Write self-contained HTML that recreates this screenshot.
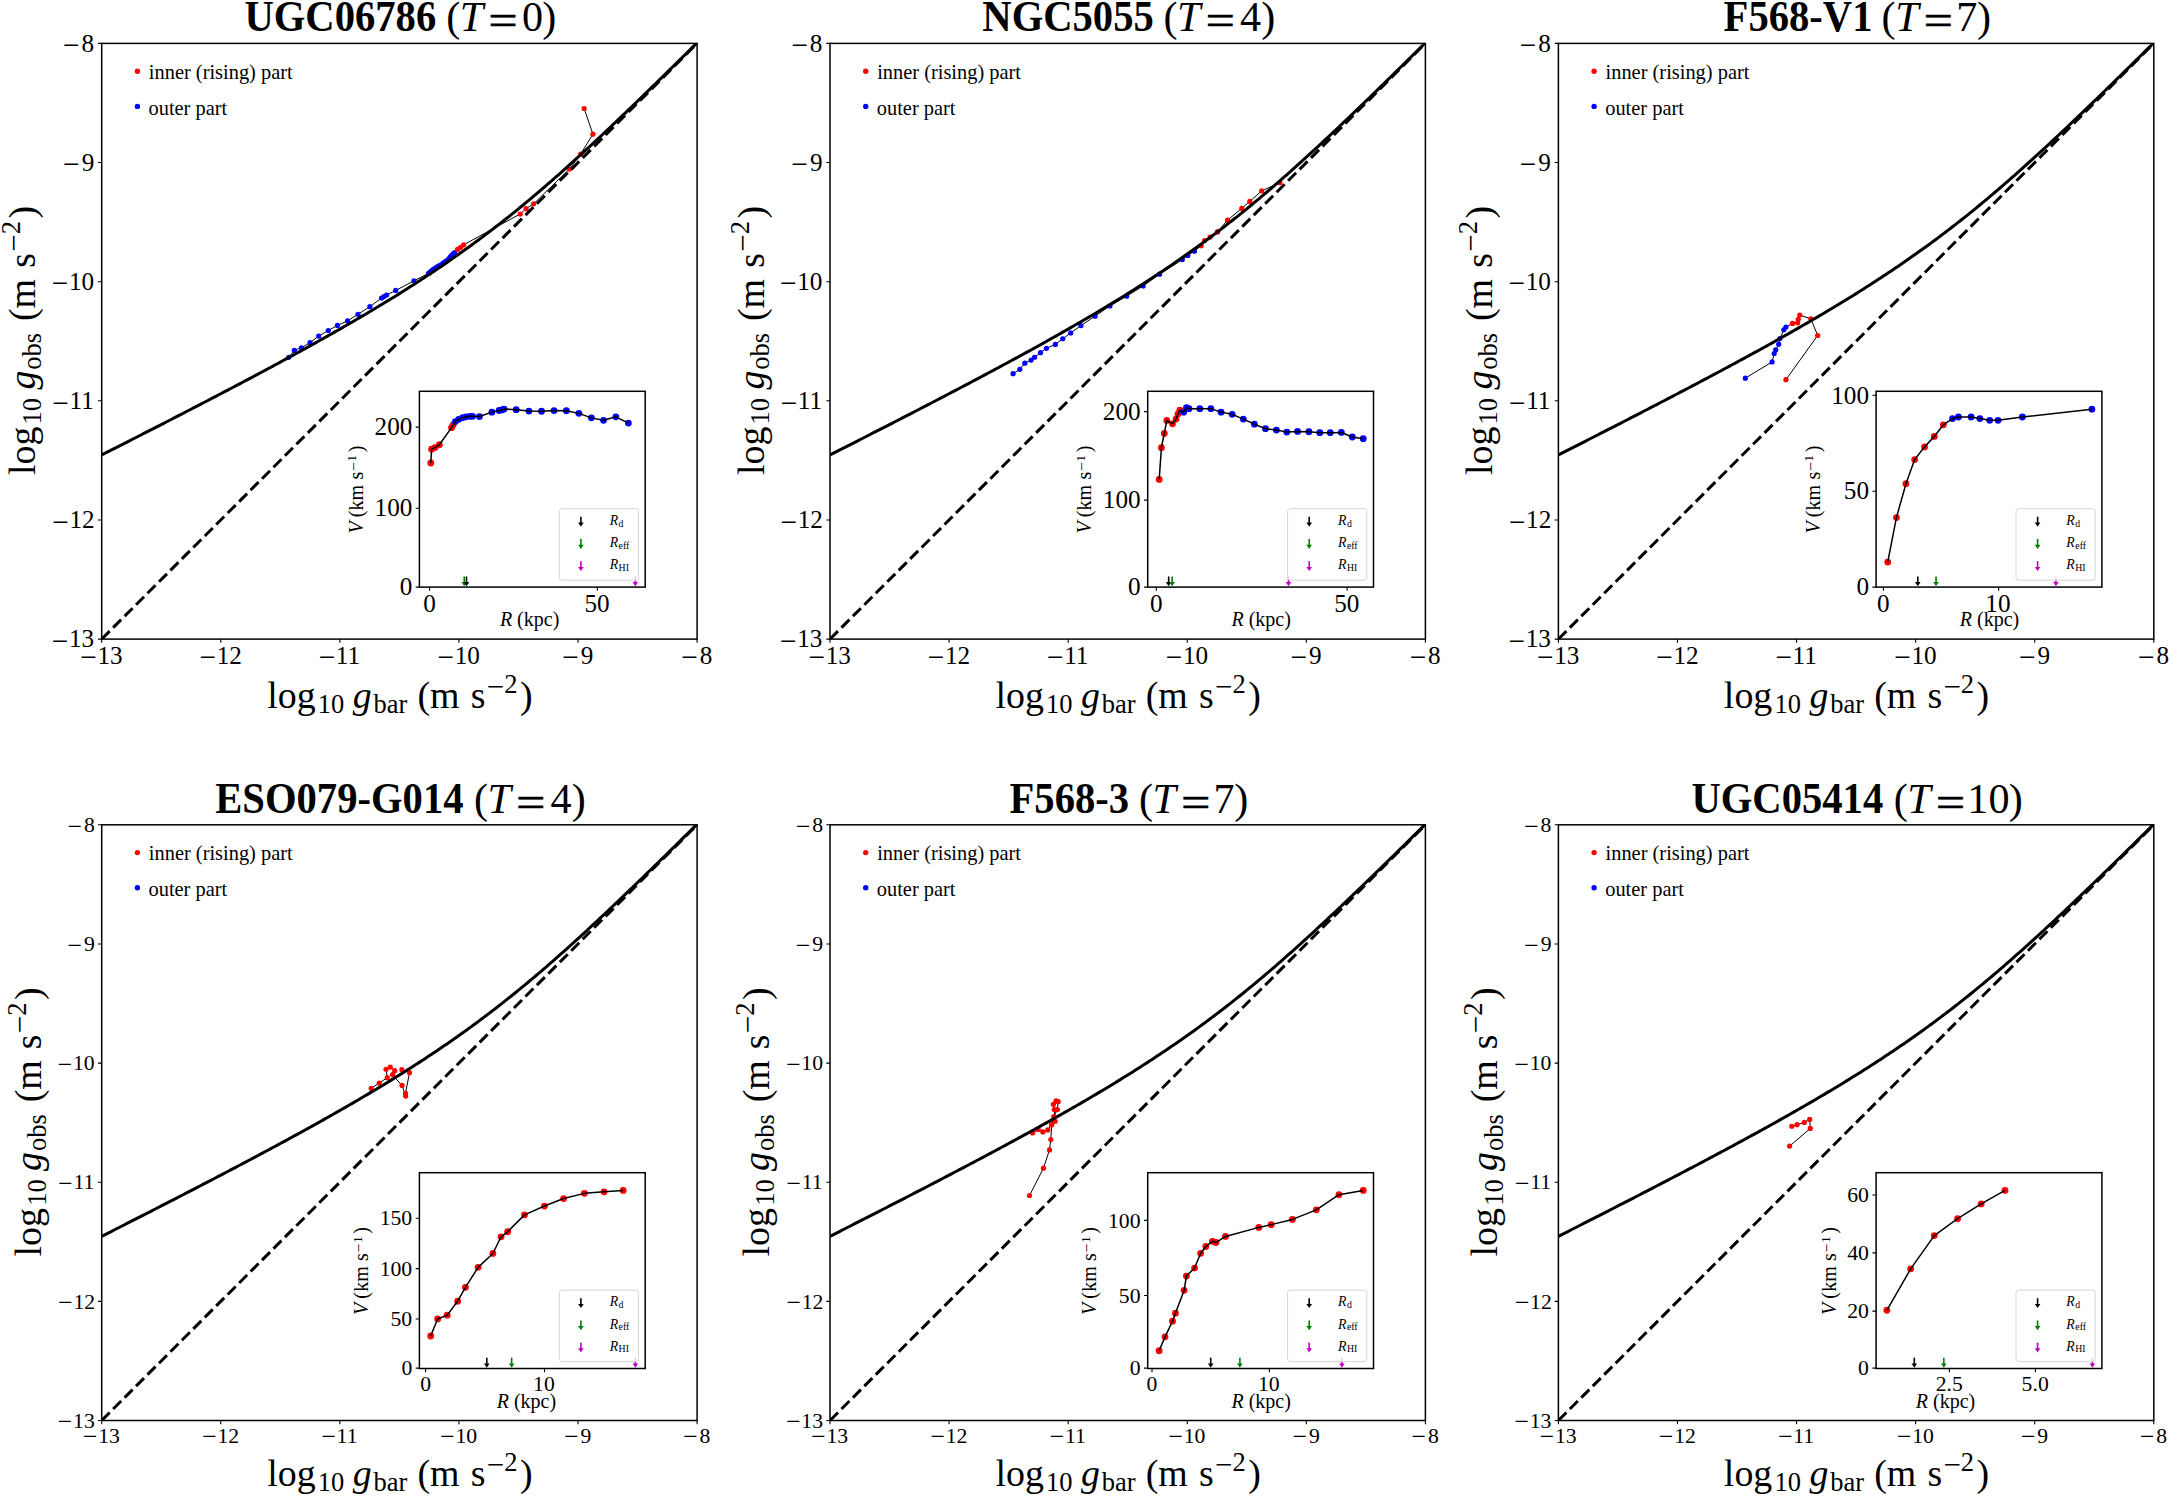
<!DOCTYPE html>
<html><head><meta charset="utf-8"><title>RAR panels</title><style>html,body{margin:0;padding:0;background:#fff;width:2170px;height:1497px;overflow:hidden}svg{display:block}</style></head><body>
<svg width="2170" height="1497" viewBox="0 0 2170 1497" font-family="'Liberation Serif', 'Times New Roman', serif">
<rect width="2170" height="1497" fill="#fff"/>
<g id="p0">
<clipPath id="c0"><rect x="101.7" y="43.4" width="595.4" height="595.7"/></clipPath>
<g clip-path="url(#c0)">
<polyline points="584.15,108.49 592.91,134.14 580.62,154.13 569.4,169.09 533.59,203.83 526.11,208.64 520.23,213.98 463.64,244.84 460.6,247.37 457.56,249.4 454.6,252.6 453.15,253.95 451.7,255.3 450.37,256.9 449.03,258.5 447.7,260.1 446.38,261.03 445.05,261.95 443.72,262.88 442.4,263.8 440.4,265 438.4,266.2 437.05,267.07 435.7,267.95 434.35,268.82 433,269.7 431.5,270.93 430,272.17 428.5,273.4 413.96,280.83 395.71,290.46 386.59,295.02 384,296.6 381.52,298.06 369.86,306.68 358,314.29 347.56,320.88 337.42,325.44 328.29,330.51 318.66,336.08 310.05,342.67 301.43,347.74 294.33,350.28 288.76,357.37" stroke="#000" stroke-width="1" fill="none"/>
<circle cx="288.76" cy="357.37" r="2.6" fill="#0000ff"/>
<circle cx="294.33" cy="350.28" r="2.6" fill="#0000ff"/>
<circle cx="301.43" cy="347.74" r="2.6" fill="#0000ff"/>
<circle cx="310.05" cy="342.67" r="2.6" fill="#0000ff"/>
<circle cx="318.66" cy="336.08" r="2.6" fill="#0000ff"/>
<circle cx="328.29" cy="330.51" r="2.6" fill="#0000ff"/>
<circle cx="337.42" cy="325.44" r="2.6" fill="#0000ff"/>
<circle cx="347.56" cy="320.88" r="2.6" fill="#0000ff"/>
<circle cx="358" cy="314.29" r="2.6" fill="#0000ff"/>
<circle cx="369.86" cy="306.68" r="2.6" fill="#0000ff"/>
<circle cx="381.52" cy="298.06" r="2.6" fill="#0000ff"/>
<circle cx="384" cy="296.6" r="2.6" fill="#0000ff"/>
<circle cx="386.59" cy="295.02" r="2.6" fill="#0000ff"/>
<circle cx="395.71" cy="290.46" r="2.6" fill="#0000ff"/>
<circle cx="413.96" cy="280.83" r="2.6" fill="#0000ff"/>
<circle cx="428.5" cy="273.4" r="2.6" fill="#0000ff"/>
<circle cx="430" cy="272.17" r="2.6" fill="#0000ff"/>
<circle cx="431.5" cy="270.93" r="2.6" fill="#0000ff"/>
<circle cx="433" cy="269.7" r="2.6" fill="#0000ff"/>
<circle cx="434.35" cy="268.82" r="2.6" fill="#0000ff"/>
<circle cx="435.7" cy="267.95" r="2.6" fill="#0000ff"/>
<circle cx="437.05" cy="267.07" r="2.6" fill="#0000ff"/>
<circle cx="438.4" cy="266.2" r="2.6" fill="#0000ff"/>
<circle cx="440.4" cy="265" r="2.6" fill="#0000ff"/>
<circle cx="442.4" cy="263.8" r="2.6" fill="#0000ff"/>
<circle cx="443.72" cy="262.88" r="2.6" fill="#0000ff"/>
<circle cx="445.05" cy="261.95" r="2.6" fill="#0000ff"/>
<circle cx="446.38" cy="261.03" r="2.6" fill="#0000ff"/>
<circle cx="447.7" cy="260.1" r="2.6" fill="#0000ff"/>
<circle cx="449.03" cy="258.5" r="2.6" fill="#0000ff"/>
<circle cx="450.37" cy="256.9" r="2.6" fill="#0000ff"/>
<circle cx="451.7" cy="255.3" r="2.6" fill="#0000ff"/>
<circle cx="453.15" cy="253.95" r="2.6" fill="#0000ff"/>
<circle cx="454.6" cy="252.6" r="2.6" fill="#0000ff"/>
<circle cx="457.56" cy="249.4" r="2.6" fill="#ff0000"/>
<circle cx="460.6" cy="247.37" r="2.6" fill="#ff0000"/>
<circle cx="463.64" cy="244.84" r="2.6" fill="#ff0000"/>
<circle cx="520.23" cy="213.98" r="2.6" fill="#ff0000"/>
<circle cx="526.11" cy="208.64" r="2.6" fill="#ff0000"/>
<circle cx="533.59" cy="203.83" r="2.6" fill="#ff0000"/>
<circle cx="569.4" cy="169.09" r="2.6" fill="#ff0000"/>
<circle cx="580.62" cy="154.13" r="2.6" fill="#ff0000"/>
<circle cx="592.91" cy="134.14" r="2.6" fill="#ff0000"/>
<circle cx="584.15" cy="108.49" r="2.6" fill="#ff0000"/>
<path d="M101.7,639.1 L697.1,43.4" stroke="#000" stroke-width="3" stroke-dasharray="11.3 4.9" fill="none"/>
<path d="M101.7,454.93 L104.18,453.67 L106.66,452.41 L109.14,451.15 L111.62,449.89 L114.1,448.63 L116.59,447.36 L119.07,446.1 L121.55,444.84 L124.03,443.58 L126.51,442.31 L128.99,441.05 L131.47,439.78 L133.95,438.52 L136.43,437.25 L138.91,435.99 L141.39,434.72 L143.87,433.45 L146.36,432.18 L148.84,430.92 L151.32,429.65 L153.8,428.38 L156.28,427.1 L158.76,425.83 L161.24,424.56 L163.72,423.29 L166.2,422.01 L168.68,420.74 L171.16,419.46 L173.64,418.19 L176.12,416.91 L178.61,415.63 L181.09,414.35 L183.57,413.07 L186.05,411.79 L188.53,410.51 L191.01,409.23 L193.49,407.94 L195.97,406.66 L198.45,405.37 L200.93,404.08 L203.41,402.79 L205.89,401.5 L208.38,400.21 L210.86,398.92 L213.34,397.63 L215.82,396.33 L218.3,395.04 L220.78,393.74 L223.26,392.44 L225.74,391.14 L228.22,389.84 L230.7,388.54 L233.18,387.24 L235.67,385.93 L238.15,384.62 L240.63,383.32 L243.11,382 L245.59,380.69 L248.07,379.38 L250.55,378.06 L253.03,376.75 L255.51,375.43 L257.99,374.11 L260.47,372.78 L262.95,371.46 L265.44,370.13 L267.92,368.8 L270.4,367.47 L272.88,366.14 L275.36,364.8 L277.84,363.46 L280.32,362.12 L282.8,360.78 L285.28,359.44 L287.76,358.09 L290.24,356.74 L292.72,355.38 L295.2,354.03 L297.69,352.67 L300.17,351.31 L302.65,349.95 L305.13,348.58 L307.61,347.21 L310.09,345.84 L312.57,344.46 L315.05,343.08 L317.53,341.7 L320.01,340.31 L322.49,338.92 L324.98,337.53 L327.46,336.13 L329.94,334.73 L332.42,333.33 L334.9,331.92 L337.38,330.51 L339.86,329.09 L342.34,327.67 L344.82,326.25 L347.3,324.82 L349.78,323.38 L352.26,321.94 L354.75,320.5 L357.23,319.05 L359.71,317.6 L362.19,316.14 L364.67,314.68 L367.15,313.21 L369.63,311.74 L372.11,310.26 L374.59,308.78 L377.07,307.29 L379.55,305.79 L382.03,304.29 L384.51,302.79 L387,301.27 L389.48,299.75 L391.96,298.23 L394.44,296.69 L396.92,295.16 L399.4,293.61 L401.88,292.06 L404.36,290.5 L406.84,288.93 L409.32,287.35 L411.8,285.77 L414.28,284.18 L416.77,282.58 L419.25,280.98 L421.73,279.36 L424.21,277.74 L426.69,276.11 L429.17,274.47 L431.65,272.83 L434.13,271.17 L436.61,269.51 L439.09,267.83 L441.57,266.15 L444.06,264.46 L446.54,262.75 L449.02,261.04 L451.5,259.32 L453.98,257.59 L456.46,255.85 L458.94,254.1 L461.42,252.34 L463.9,250.56 L466.38,248.78 L468.86,246.99 L471.34,245.19 L473.82,243.37 L476.31,241.55 L478.79,239.71 L481.27,237.86 L483.75,236 L486.23,234.14 L488.71,232.25 L491.19,230.36 L493.67,228.46 L496.15,226.54 L498.63,224.62 L501.11,222.68 L503.59,220.73 L506.08,218.77 L508.56,216.8 L511.04,214.82 L513.52,212.82 L516,210.82 L518.48,208.8 L520.96,206.77 L523.44,204.73 L525.92,202.68 L528.4,200.62 L530.88,198.54 L533.37,196.46 L535.85,194.36 L538.33,192.26 L540.81,190.14 L543.29,188.01 L545.77,185.88 L548.25,183.73 L550.73,181.57 L553.21,179.4 L555.69,177.23 L558.17,175.04 L560.65,172.84 L563.13,170.64 L565.62,168.42 L568.1,166.2 L570.58,163.97 L573.06,161.73 L575.54,159.48 L578.02,157.22 L580.5,154.96 L582.98,152.68 L585.46,150.4 L587.94,148.11 L590.42,145.82 L592.9,143.52 L595.39,141.21 L597.87,138.89 L600.35,136.57 L602.83,134.24 L605.31,131.91 L607.79,129.57 L610.27,127.23 L612.75,124.88 L615.23,122.52 L617.71,120.16 L620.19,117.79 L622.68,115.42 L625.16,113.05 L627.64,110.67 L630.12,108.28 L632.6,105.9 L635.08,103.51 L637.56,101.11 L640.04,98.71 L642.52,96.31 L645,93.9 L647.48,91.49 L649.96,89.08 L652.45,86.66 L654.93,84.25 L657.41,81.82 L659.89,79.4 L662.37,76.97 L664.85,74.55 L667.33,72.11 L669.81,69.68 L672.29,67.25 L674.77,64.81 L677.25,62.37 L679.73,59.93 L682.22,57.48 L684.7,55.04 L687.18,52.59 L689.66,50.14 L692.14,47.69 L694.62,45.24 L697.1,42.79" stroke="#000" stroke-width="3" fill="none" stroke-linejoin="round"/>
</g>
<rect x="101.7" y="43.4" width="595.4" height="595.7" fill="none" stroke="#000" stroke-width="1.5"/>
<path d="M101.7,639.1 v3.7 M101.7,639.1 h-3.7 M220.78,639.1 v3.7 M101.7,519.96 h-3.7 M339.86,639.1 v3.7 M101.7,400.82 h-3.7 M458.94,639.1 v3.7 M101.7,281.68 h-3.7 M578.02,639.1 v3.7 M101.7,162.54 h-3.7 M697.1,639.1 v3.7 M101.7,43.4 h-3.7" stroke="#000" stroke-width="1.1"/>
<text font-size="25.2"><tspan x="80.27" y="667.29" font-size="29.5">−</tspan><tspan x="97.45" y="664">13</tspan></text>
<text font-size="25.2"><tspan x="51.8" y="650.79" font-size="29.5">−</tspan><tspan x="68.98" y="647.49">13</tspan></text>
<text font-size="25.2"><tspan x="199.55" y="667.29" font-size="29.5">−</tspan><tspan x="216.73" y="664">12</tspan></text>
<text font-size="25.2"><tspan x="52.21" y="531.65" font-size="29.5">−</tspan><tspan x="69.39" y="528.35">12</tspan></text>
<text font-size="25.2"><tspan x="318.69" y="667.29" font-size="29.5">−</tspan><tspan x="335.87" y="664">11</tspan></text>
<text font-size="25.2"><tspan x="52.33" y="412.51" font-size="29.5">−</tspan><tspan x="69.51" y="409.21">11</tspan></text>
<text font-size="25.2"><tspan x="437.49" y="667.29" font-size="29.5">−</tspan><tspan x="454.68" y="664">10</tspan></text>
<text font-size="25.2"><tspan x="51.78" y="293.37" font-size="29.5">−</tspan><tspan x="68.96" y="290.07">10</tspan></text>
<text font-size="25.2"><tspan x="562.21" y="667.29" font-size="29.5">−</tspan><tspan x="580.79" y="664">9</tspan></text>
<text font-size="25.2"><tspan x="63.05" y="174.23" font-size="29.5">−</tspan><tspan x="81.63" y="170.93">9</tspan></text>
<text font-size="25.2"><tspan x="681.33" y="667.29" font-size="29.5">−</tspan><tspan x="699.76" y="664">8</tspan></text>
<text font-size="25.2"><tspan x="63.12" y="55.09" font-size="29.5">−</tspan><tspan x="81.56" y="51.79">8</tspan></text>
<text transform="translate(244.44,31.2) scale(0.932,1)" font-size="43.6" font-weight="bold">UGC06786</text>
<text><tspan x="446.28" y="31.2" font-size="42.2">(</tspan><tspan x="459.81" y="31.2" font-size="42.2" font-style="italic">T</tspan><tspan x="522.02" y="31.2" font-size="42.2">0</tspan><tspan x="542.35" y="31.2" font-size="42.2">)</tspan></text>
<text transform="translate(488.51,34.1) scale(1.22,1)" font-size="42.2" stroke="#000" stroke-width="0.7">=</text>
<text><tspan x="267.17" y="707.7" font-size="37.9">log</tspan><tspan x="317.8" y="713.1" font-size="26.5">10</tspan><tspan x="352.71" y="707.7" font-size="37.9" font-style="italic">g</tspan><tspan x="373.53" y="713.1" font-size="26.5">bar</tspan><tspan x="417.57" y="707.7" font-size="37.9">(</tspan><tspan x="430.04" y="707.7" font-size="37.9">m</tspan><tspan x="470.68" y="707.7" font-size="37.9">s</tspan><tspan x="486.69" y="696.6" font-size="31">−</tspan><tspan x="504.17" y="692.7" font-size="26.5">2</tspan><tspan x="519.91" y="707.7" font-size="37.9">)</tspan></text>
<text transform="translate(35.3,340.95) rotate(-90)"><tspan x="-134.08" y="0" font-size="37.9">log</tspan><tspan x="-83.45" y="5.4" font-size="26.5">10</tspan><tspan x="-48.54" y="0" font-size="37.9" font-style="italic">g</tspan><tspan x="-28.73" y="5.4" font-size="26.5">obs</tspan><tspan x="20.02" y="0" font-size="37.9">(</tspan><tspan x="32.49" y="0" font-size="37.9">m</tspan><tspan x="73.13" y="0" font-size="37.9">s</tspan><tspan x="89.14" y="-11.1" font-size="31">−</tspan><tspan x="106.62" y="-15" font-size="26.5">2</tspan><tspan x="122.36" y="0" font-size="37.9">)</tspan></text>
<circle cx="137.4" cy="71.2" r="2.7" fill="#ff0000"/>
<circle cx="137.4" cy="106.4" r="2.7" fill="#0000ff"/>
<text x="148.87" y="79" font-size="20.4">inner (rising) part</text>
<text x="148.52" y="114.7" font-size="20.4">outer part</text>
</g>
<g id="in0">
<rect x="419.4" y="391.3" width="225.8" height="195.8" fill="#fff"/>
<clipPath id="ic0"><rect x="419.4" y="391.3" width="225.8" height="195.8"/></clipPath>
<g clip-path="url(#ic0)">
<circle cx="430.78" cy="463.02" r="3.4" fill="#ff0000"/>
<circle cx="431.61" cy="449.19" r="3.4" fill="#ff0000"/>
<circle cx="434.93" cy="447.53" r="3.4" fill="#ff0000"/>
<circle cx="439.35" cy="444.77" r="3.4" fill="#ff0000"/>
<circle cx="451.52" cy="427.63" r="3.4" fill="#ff0000"/>
<circle cx="453.18" cy="424.86" r="3.4" fill="#ff0000"/>
<circle cx="455.39" cy="421.54" r="3.4" fill="#0000ff"/>
<circle cx="458.71" cy="419.33" r="3.4" fill="#0000ff"/>
<circle cx="462.58" cy="417.67" r="3.4" fill="#0000ff"/>
<circle cx="465.9" cy="416.84" r="3.4" fill="#0000ff"/>
<circle cx="469.77" cy="416.29" r="3.4" fill="#0000ff"/>
<circle cx="472.53" cy="416.29" r="3.4" fill="#0000ff"/>
<circle cx="479.45" cy="416.57" r="3.4" fill="#0000ff"/>
<circle cx="491.89" cy="412.14" r="3.4" fill="#0000ff"/>
<circle cx="499.08" cy="410.48" r="3.4" fill="#0000ff"/>
<circle cx="501.84" cy="409.93" r="3.4" fill="#0000ff"/>
<circle cx="504.06" cy="409.1" r="3.4" fill="#0000ff"/>
<circle cx="516.22" cy="409.65" r="3.4" fill="#0000ff"/>
<circle cx="528.94" cy="411.04" r="3.4" fill="#0000ff"/>
<circle cx="541.52" cy="411.27" r="3.4" fill="#0000ff"/>
<circle cx="554.03" cy="410.58" r="3.4" fill="#0000ff"/>
<circle cx="566.36" cy="410.75" r="3.4" fill="#0000ff"/>
<circle cx="578.87" cy="413.36" r="3.4" fill="#0000ff"/>
<circle cx="591.38" cy="417.87" r="3.4" fill="#0000ff"/>
<circle cx="603.54" cy="420.3" r="3.4" fill="#0000ff"/>
<circle cx="615.87" cy="416.83" r="3.4" fill="#0000ff"/>
<circle cx="628.38" cy="423.08" r="3.4" fill="#0000ff"/>
<polyline points="430.78,463.02 431.61,449.19 434.93,447.53 439.35,444.77 451.52,427.63 453.18,424.86 455.39,421.54 458.71,419.33 462.58,417.67 465.9,416.84 469.77,416.29 472.53,416.29 479.45,416.57 491.89,412.14 499.08,410.48 501.84,409.93 504.06,409.1 516.22,409.65 528.94,411.04 541.52,411.27 554.03,410.58 566.36,410.75 578.87,413.36 591.38,417.87 603.54,420.3 615.87,416.83 628.38,423.08" stroke="#000" stroke-width="1.5" fill="none" stroke-linejoin="round"/>
<path d="M464.22,577 V582.6" stroke="#008000" stroke-width="1.6" stroke-linecap="round"/><path d="M461.42,582.1 L467.02,582.1 L464.22,586.3 Z" fill="#008000"/>
<path d="M466.48,577 V582.6" stroke="#000000" stroke-width="1.6" stroke-linecap="round"/><path d="M463.68,582.1 L469.28,582.1 L466.48,586.3 Z" fill="#000000"/>
<path d="M635.34,577 V582.6" stroke="#bf00bf" stroke-width="1.6" stroke-linecap="round"/><path d="M632.54,582.1 L638.14,582.1 L635.34,586.3 Z" fill="#bf00bf"/>
</g>
<rect x="559.3" y="508.7" width="79.2" height="71.5" rx="2.8" fill="#fff" fill-opacity="0.8" stroke="#d6d6d6" stroke-width="1"/>
<path d="M580.9,517.4 V523" stroke="#000000" stroke-width="1.6" stroke-linecap="round"/><path d="M578.1,522.5 L583.7,522.5 L580.9,526.7 Z" fill="#000000"/>
<text font-size="13.8"><tspan x="609.67" y="525" font-style="italic">R</tspan><tspan x="618.6" y="526.5" font-size="9.8">d</tspan></text>
<path d="M580.9,539.6 V545.2" stroke="#008000" stroke-width="1.6" stroke-linecap="round"/><path d="M578.1,544.7 L583.7,544.7 L580.9,548.9 Z" fill="#008000"/>
<text font-size="13.8"><tspan x="609.67" y="547.2" font-style="italic">R</tspan><tspan x="618.6" y="548.7" font-size="9.8">eff</tspan></text>
<path d="M580.9,561.8 V567.4" stroke="#bf00bf" stroke-width="1.6" stroke-linecap="round"/><path d="M578.1,566.9 L583.7,566.9 L580.9,571.1 Z" fill="#bf00bf"/>
<text font-size="13.8"><tspan x="609.67" y="569.4" font-style="italic">R</tspan><tspan x="618.6" y="570.9" font-size="9.8">HI</tspan></text>
<rect x="419.4" y="391.3" width="225.8" height="195.8" fill="none" stroke="#000" stroke-width="1.5"/>
<text x="399.76" y="595.36" font-size="25.2">0</text>
<text x="374.56" y="516.46" font-size="25.2">100</text>
<text x="374.56" y="435.36" font-size="25.2">200</text>
<text x="423.3" y="611.6" font-size="25.2">0</text>
<text x="584.45" y="611.6" font-size="25.2">50</text>
<path d="M419.4,587.1 h-3.7 M419.4,508.2 h-3.7 M419.4,427.1 h-3.7 M429.6,587.1 v3.7 M597.3,587.1 v3.7" stroke="#000" stroke-width="1.1"/>
<text><tspan x="499.89" y="626.4" font-size="20" font-style="italic">R</tspan><tspan x="517.1" y="626.4" font-size="20">(kpc)</tspan></text>
<text transform="translate(362.7,489.5) rotate(-90)"><tspan x="-44.01" y="0" font-size="20" font-style="italic">V</tspan><tspan x="-27.75" y="0" font-size="20">(</tspan><tspan x="-20.95" y="0" font-size="20">km</tspan><tspan x="10.01" y="0" font-size="20">s</tspan><tspan x="18.76" y="-4" font-size="15.5">−</tspan><tspan x="27.85" y="-6.3" font-size="13.5">1</tspan><tspan x="37.19" y="0" font-size="20">)</tspan></text>
</g>
<g id="p1">
<clipPath id="c1"><rect x="830" y="43.4" width="595.4" height="595.7"/></clipPath>
<g clip-path="url(#c1)">
<polyline points="1279.86,182.73 1261.62,190.88 1249.8,201.43 1241.78,208.44 1227.56,220.13 1217.74,231.82 1217.24,231.89 1210.19,237.06 1204.55,240.51 1201.11,245.68 1194.37,251.16 1187.79,255.39 1182.3,259.62 1159.59,274.19 1143.13,285.94 1126.68,296.13 1109.92,306 1095.03,316.18 1080.93,325.59 1070.75,332.95 1062.76,338.75 1055.39,344.39 1046.46,348.3 1040.51,352.69 1034.55,357.24 1031.11,360.06 1024.84,363.19 1019.82,369.3 1013.09,373.69" stroke="#000" stroke-width="1" fill="none"/>
<circle cx="1013.09" cy="373.69" r="2.6" fill="#0000ff"/>
<circle cx="1019.82" cy="369.3" r="2.6" fill="#0000ff"/>
<circle cx="1024.84" cy="363.19" r="2.6" fill="#0000ff"/>
<circle cx="1031.11" cy="360.06" r="2.6" fill="#0000ff"/>
<circle cx="1034.55" cy="357.24" r="2.6" fill="#0000ff"/>
<circle cx="1040.51" cy="352.69" r="2.6" fill="#0000ff"/>
<circle cx="1046.46" cy="348.3" r="2.6" fill="#0000ff"/>
<circle cx="1055.39" cy="344.39" r="2.6" fill="#0000ff"/>
<circle cx="1062.76" cy="338.75" r="2.6" fill="#0000ff"/>
<circle cx="1070.75" cy="332.95" r="2.6" fill="#0000ff"/>
<circle cx="1080.93" cy="325.59" r="2.6" fill="#0000ff"/>
<circle cx="1095.03" cy="316.18" r="2.6" fill="#0000ff"/>
<circle cx="1109.92" cy="306" r="2.6" fill="#0000ff"/>
<circle cx="1126.68" cy="296.13" r="2.6" fill="#0000ff"/>
<circle cx="1143.13" cy="285.94" r="2.6" fill="#0000ff"/>
<circle cx="1159.59" cy="274.19" r="2.6" fill="#0000ff"/>
<circle cx="1182.3" cy="259.62" r="2.6" fill="#0000ff"/>
<circle cx="1187.79" cy="255.39" r="2.6" fill="#0000ff"/>
<circle cx="1194.37" cy="251.16" r="2.6" fill="#0000ff"/>
<circle cx="1201.11" cy="245.68" r="2.6" fill="#ff0000"/>
<circle cx="1204.55" cy="240.51" r="2.6" fill="#ff0000"/>
<circle cx="1210.19" cy="237.06" r="2.6" fill="#ff0000"/>
<circle cx="1217.24" cy="231.89" r="2.6" fill="#ff0000"/>
<circle cx="1217.74" cy="231.82" r="2.6" fill="#ff0000"/>
<circle cx="1227.56" cy="220.13" r="2.6" fill="#ff0000"/>
<circle cx="1241.78" cy="208.44" r="2.6" fill="#ff0000"/>
<circle cx="1249.8" cy="201.43" r="2.6" fill="#ff0000"/>
<circle cx="1261.62" cy="190.88" r="2.6" fill="#ff0000"/>
<circle cx="1279.86" cy="182.73" r="2.6" fill="#ff0000"/>
<path d="M830,639.1 L1425.4,43.4" stroke="#000" stroke-width="3" stroke-dasharray="11.3 4.9" fill="none"/>
<path d="M830,454.93 L832.48,453.67 L834.96,452.41 L837.44,451.15 L839.92,449.89 L842.4,448.63 L844.88,447.36 L847.37,446.1 L849.85,444.84 L852.33,443.58 L854.81,442.31 L857.29,441.05 L859.77,439.78 L862.25,438.52 L864.73,437.25 L867.21,435.99 L869.69,434.72 L872.17,433.45 L874.65,432.18 L877.14,430.92 L879.62,429.65 L882.1,428.38 L884.58,427.1 L887.06,425.83 L889.54,424.56 L892.02,423.29 L894.5,422.01 L896.98,420.74 L899.46,419.46 L901.94,418.19 L904.42,416.91 L906.91,415.63 L909.39,414.35 L911.87,413.07 L914.35,411.79 L916.83,410.51 L919.31,409.23 L921.79,407.94 L924.27,406.66 L926.75,405.37 L929.23,404.08 L931.71,402.79 L934.19,401.5 L936.68,400.21 L939.16,398.92 L941.64,397.63 L944.12,396.33 L946.6,395.04 L949.08,393.74 L951.56,392.44 L954.04,391.14 L956.52,389.84 L959,388.54 L961.48,387.24 L963.97,385.93 L966.45,384.62 L968.93,383.32 L971.41,382 L973.89,380.69 L976.37,379.38 L978.85,378.06 L981.33,376.75 L983.81,375.43 L986.29,374.11 L988.77,372.78 L991.25,371.46 L993.74,370.13 L996.22,368.8 L998.7,367.47 L1001.18,366.14 L1003.66,364.8 L1006.14,363.46 L1008.62,362.12 L1011.1,360.78 L1013.58,359.44 L1016.06,358.09 L1018.54,356.74 L1021.02,355.38 L1023.5,354.03 L1025.99,352.67 L1028.47,351.31 L1030.95,349.95 L1033.43,348.58 L1035.91,347.21 L1038.39,345.84 L1040.87,344.46 L1043.35,343.08 L1045.83,341.7 L1048.31,340.31 L1050.79,338.92 L1053.28,337.53 L1055.76,336.13 L1058.24,334.73 L1060.72,333.33 L1063.2,331.92 L1065.68,330.51 L1068.16,329.09 L1070.64,327.67 L1073.12,326.25 L1075.6,324.82 L1078.08,323.38 L1080.56,321.94 L1083.05,320.5 L1085.53,319.05 L1088.01,317.6 L1090.49,316.14 L1092.97,314.68 L1095.45,313.21 L1097.93,311.74 L1100.41,310.26 L1102.89,308.78 L1105.37,307.29 L1107.85,305.79 L1110.33,304.29 L1112.82,302.79 L1115.3,301.27 L1117.78,299.75 L1120.26,298.23 L1122.74,296.69 L1125.22,295.16 L1127.7,293.61 L1130.18,292.06 L1132.66,290.5 L1135.14,288.93 L1137.62,287.35 L1140.1,285.77 L1142.59,284.18 L1145.07,282.58 L1147.55,280.98 L1150.03,279.36 L1152.51,277.74 L1154.99,276.11 L1157.47,274.47 L1159.95,272.83 L1162.43,271.17 L1164.91,269.51 L1167.39,267.83 L1169.87,266.15 L1172.36,264.46 L1174.84,262.75 L1177.32,261.04 L1179.8,259.32 L1182.28,257.59 L1184.76,255.85 L1187.24,254.1 L1189.72,252.34 L1192.2,250.56 L1194.68,248.78 L1197.16,246.99 L1199.64,245.19 L1202.12,243.37 L1204.61,241.55 L1207.09,239.71 L1209.57,237.86 L1212.05,236 L1214.53,234.14 L1217.01,232.25 L1219.49,230.36 L1221.97,228.46 L1224.45,226.54 L1226.93,224.62 L1229.41,222.68 L1231.89,220.73 L1234.38,218.77 L1236.86,216.8 L1239.34,214.82 L1241.82,212.82 L1244.3,210.82 L1246.78,208.8 L1249.26,206.77 L1251.74,204.73 L1254.22,202.68 L1256.7,200.62 L1259.18,198.54 L1261.66,196.46 L1264.15,194.36 L1266.63,192.26 L1269.11,190.14 L1271.59,188.01 L1274.07,185.88 L1276.55,183.73 L1279.03,181.57 L1281.51,179.4 L1283.99,177.23 L1286.47,175.04 L1288.95,172.84 L1291.43,170.64 L1293.92,168.42 L1296.4,166.2 L1298.88,163.97 L1301.36,161.73 L1303.84,159.48 L1306.32,157.22 L1308.8,154.96 L1311.28,152.68 L1313.76,150.4 L1316.24,148.11 L1318.72,145.82 L1321.2,143.52 L1323.69,141.21 L1326.17,138.89 L1328.65,136.57 L1331.13,134.24 L1333.61,131.91 L1336.09,129.57 L1338.57,127.23 L1341.05,124.88 L1343.53,122.52 L1346.01,120.16 L1348.49,117.79 L1350.97,115.42 L1353.46,113.05 L1355.94,110.67 L1358.42,108.28 L1360.9,105.9 L1363.38,103.51 L1365.86,101.11 L1368.34,98.71 L1370.82,96.31 L1373.3,93.9 L1375.78,91.49 L1378.26,89.08 L1380.74,86.66 L1383.23,84.25 L1385.71,81.82 L1388.19,79.4 L1390.67,76.97 L1393.15,74.55 L1395.63,72.11 L1398.11,69.68 L1400.59,67.25 L1403.07,64.81 L1405.55,62.37 L1408.03,59.93 L1410.51,57.48 L1413,55.04 L1415.48,52.59 L1417.96,50.14 L1420.44,47.69 L1422.92,45.24 L1425.4,42.79" stroke="#000" stroke-width="3" fill="none" stroke-linejoin="round"/>
</g>
<rect x="830" y="43.4" width="595.4" height="595.7" fill="none" stroke="#000" stroke-width="1.5"/>
<path d="M830,639.1 v3.7 M830,639.1 h-3.7 M949.08,639.1 v3.7 M830,519.96 h-3.7 M1068.16,639.1 v3.7 M830,400.82 h-3.7 M1187.24,639.1 v3.7 M830,281.68 h-3.7 M1306.32,639.1 v3.7 M830,162.54 h-3.7 M1425.4,639.1 v3.7 M830,43.4 h-3.7" stroke="#000" stroke-width="1.1"/>
<text font-size="25.2"><tspan x="808.57" y="667.29" font-size="29.5">−</tspan><tspan x="825.75" y="664">13</tspan></text>
<text font-size="25.2"><tspan x="780.1" y="650.79" font-size="29.5">−</tspan><tspan x="797.28" y="647.49">13</tspan></text>
<text font-size="25.2"><tspan x="927.85" y="667.29" font-size="29.5">−</tspan><tspan x="945.03" y="664">12</tspan></text>
<text font-size="25.2"><tspan x="780.51" y="531.65" font-size="29.5">−</tspan><tspan x="797.69" y="528.35">12</tspan></text>
<text font-size="25.2"><tspan x="1046.99" y="667.29" font-size="29.5">−</tspan><tspan x="1064.17" y="664">11</tspan></text>
<text font-size="25.2"><tspan x="780.63" y="412.51" font-size="29.5">−</tspan><tspan x="797.81" y="409.21">11</tspan></text>
<text font-size="25.2"><tspan x="1165.79" y="667.29" font-size="29.5">−</tspan><tspan x="1182.98" y="664">10</tspan></text>
<text font-size="25.2"><tspan x="780.08" y="293.37" font-size="29.5">−</tspan><tspan x="797.26" y="290.07">10</tspan></text>
<text font-size="25.2"><tspan x="1290.51" y="667.29" font-size="29.5">−</tspan><tspan x="1309.09" y="664">9</tspan></text>
<text font-size="25.2"><tspan x="791.35" y="174.23" font-size="29.5">−</tspan><tspan x="809.93" y="170.93">9</tspan></text>
<text font-size="25.2"><tspan x="1409.63" y="667.29" font-size="29.5">−</tspan><tspan x="1428.06" y="664">8</tspan></text>
<text font-size="25.2"><tspan x="791.42" y="55.09" font-size="29.5">−</tspan><tspan x="809.86" y="51.79">8</tspan></text>
<text transform="translate(982.3,31.2) scale(0.932,1)" font-size="43.6" font-weight="bold">NGC5055</text>
<text><tspan x="1163.52" y="31.2" font-size="42.2">(</tspan><tspan x="1177.05" y="31.2" font-size="42.2" font-style="italic">T</tspan><tspan x="1240.05" y="31.2" font-size="42.2">4</tspan><tspan x="1261.33" y="31.2" font-size="42.2">)</tspan></text>
<text transform="translate(1205.75,34.1) scale(1.22,1)" font-size="42.2" stroke="#000" stroke-width="0.7">=</text>
<text><tspan x="995.47" y="707.7" font-size="37.9">log</tspan><tspan x="1046.1" y="713.1" font-size="26.5">10</tspan><tspan x="1081.01" y="707.7" font-size="37.9" font-style="italic">g</tspan><tspan x="1101.83" y="713.1" font-size="26.5">bar</tspan><tspan x="1145.87" y="707.7" font-size="37.9">(</tspan><tspan x="1158.34" y="707.7" font-size="37.9">m</tspan><tspan x="1198.98" y="707.7" font-size="37.9">s</tspan><tspan x="1214.99" y="696.6" font-size="31">−</tspan><tspan x="1232.47" y="692.7" font-size="26.5">2</tspan><tspan x="1248.21" y="707.7" font-size="37.9">)</tspan></text>
<text transform="translate(763.6,340.95) rotate(-90)"><tspan x="-134.08" y="0" font-size="37.9">log</tspan><tspan x="-83.45" y="5.4" font-size="26.5">10</tspan><tspan x="-48.54" y="0" font-size="37.9" font-style="italic">g</tspan><tspan x="-28.73" y="5.4" font-size="26.5">obs</tspan><tspan x="20.02" y="0" font-size="37.9">(</tspan><tspan x="32.49" y="0" font-size="37.9">m</tspan><tspan x="73.13" y="0" font-size="37.9">s</tspan><tspan x="89.14" y="-11.1" font-size="31">−</tspan><tspan x="106.62" y="-15" font-size="26.5">2</tspan><tspan x="122.36" y="0" font-size="37.9">)</tspan></text>
<circle cx="865.7" cy="71.2" r="2.7" fill="#ff0000"/>
<circle cx="865.7" cy="106.4" r="2.7" fill="#0000ff"/>
<text x="877.17" y="79" font-size="20.4">inner (rising) part</text>
<text x="876.82" y="114.7" font-size="20.4">outer part</text>
</g>
<g id="in1">
<rect x="1147.7" y="391.3" width="225.8" height="195.8" fill="#fff"/>
<clipPath id="ic1"><rect x="1147.7" y="391.3" width="225.8" height="195.8"/></clipPath>
<g clip-path="url(#ic1)">
<circle cx="1159.2" cy="479.4" r="3.4" fill="#ff0000"/>
<circle cx="1161.42" cy="447.67" r="3.4" fill="#ff0000"/>
<circle cx="1164.28" cy="433.39" r="3.4" fill="#ff0000"/>
<circle cx="1166.82" cy="420.38" r="3.4" fill="#ff0000"/>
<circle cx="1172.53" cy="423.87" r="3.4" fill="#ff0000"/>
<circle cx="1176.02" cy="419.11" r="3.4" fill="#ff0000"/>
<circle cx="1177.92" cy="414.04" r="3.4" fill="#ff0000"/>
<circle cx="1179.83" cy="410.23" r="3.4" fill="#ff0000"/>
<circle cx="1183.63" cy="412.13" r="3.4" fill="#0000ff"/>
<circle cx="1186.49" cy="407.69" r="3.4" fill="#0000ff"/>
<circle cx="1189.03" cy="408.64" r="3.4" fill="#0000ff"/>
<circle cx="1199.81" cy="408.64" r="3.4" fill="#0000ff"/>
<circle cx="1210.92" cy="408.64" r="3.4" fill="#0000ff"/>
<circle cx="1221.07" cy="412.13" r="3.4" fill="#0000ff"/>
<circle cx="1232.18" cy="414.35" r="3.4" fill="#0000ff"/>
<circle cx="1243.28" cy="419.11" r="3.4" fill="#0000ff"/>
<circle cx="1254.39" cy="424.19" r="3.4" fill="#0000ff"/>
<circle cx="1265.44" cy="428.64" r="3.4" fill="#0000ff"/>
<circle cx="1276.38" cy="430.03" r="3.4" fill="#0000ff"/>
<circle cx="1286.81" cy="432.12" r="3.4" fill="#0000ff"/>
<circle cx="1297.58" cy="431.42" r="3.4" fill="#0000ff"/>
<circle cx="1308.87" cy="431.77" r="3.4" fill="#0000ff"/>
<circle cx="1319.82" cy="432.64" r="3.4" fill="#0000ff"/>
<circle cx="1330.24" cy="432.64" r="3.4" fill="#0000ff"/>
<circle cx="1341.36" cy="432.46" r="3.4" fill="#0000ff"/>
<circle cx="1352.3" cy="436.98" r="3.4" fill="#0000ff"/>
<circle cx="1363.25" cy="438.72" r="3.4" fill="#0000ff"/>
<polyline points="1159.2,479.4 1161.42,447.67 1164.28,433.39 1166.82,420.38 1172.53,423.87 1176.02,419.11 1177.92,414.04 1179.83,410.23 1183.63,412.13 1186.49,407.69 1189.03,408.64 1199.81,408.64 1210.92,408.64 1221.07,412.13 1232.18,414.35 1243.28,419.11 1254.39,424.19 1265.44,428.64 1276.38,430.03 1286.81,432.12 1297.58,431.42 1308.87,431.77 1319.82,432.64 1330.24,432.64 1341.36,432.46 1352.3,436.98 1363.25,438.72" stroke="#000" stroke-width="1.5" fill="none" stroke-linejoin="round"/>
<path d="M1168.68,577 V582.6" stroke="#000000" stroke-width="1.6" stroke-linecap="round"/><path d="M1165.88,582.1 L1171.48,582.1 L1168.68,586.3 Z" fill="#000000"/>
<path d="M1172.15,577 V582.6" stroke="#008000" stroke-width="1.6" stroke-linecap="round"/><path d="M1169.35,582.1 L1174.95,582.1 L1172.15,586.3 Z" fill="#008000"/>
<path d="M1288.55,577 V582.6" stroke="#bf00bf" stroke-width="1.6" stroke-linecap="round"/><path d="M1285.75,582.1 L1291.35,582.1 L1288.55,586.3 Z" fill="#bf00bf"/>
</g>
<rect x="1287.6" y="508.7" width="79.2" height="71.5" rx="2.8" fill="#fff" fill-opacity="0.8" stroke="#d6d6d6" stroke-width="1"/>
<path d="M1309.2,517.4 V523" stroke="#000000" stroke-width="1.6" stroke-linecap="round"/><path d="M1306.4,522.5 L1312,522.5 L1309.2,526.7 Z" fill="#000000"/>
<text font-size="13.8"><tspan x="1337.97" y="525" font-style="italic">R</tspan><tspan x="1346.9" y="526.5" font-size="9.8">d</tspan></text>
<path d="M1309.2,539.6 V545.2" stroke="#008000" stroke-width="1.6" stroke-linecap="round"/><path d="M1306.4,544.7 L1312,544.7 L1309.2,548.9 Z" fill="#008000"/>
<text font-size="13.8"><tspan x="1337.97" y="547.2" font-style="italic">R</tspan><tspan x="1346.9" y="548.7" font-size="9.8">eff</tspan></text>
<path d="M1309.2,561.8 V567.4" stroke="#bf00bf" stroke-width="1.6" stroke-linecap="round"/><path d="M1306.4,566.9 L1312,566.9 L1309.2,571.1 Z" fill="#bf00bf"/>
<text font-size="13.8"><tspan x="1337.97" y="569.4" font-style="italic">R</tspan><tspan x="1346.9" y="570.9" font-size="9.8">HI</tspan></text>
<rect x="1147.7" y="391.3" width="225.8" height="195.8" fill="none" stroke="#000" stroke-width="1.5"/>
<text x="1128.06" y="595.36" font-size="25.2">0</text>
<text x="1102.86" y="508.36" font-size="25.2">100</text>
<text x="1102.86" y="419.86" font-size="25.2">200</text>
<text x="1150" y="611.6" font-size="25.2">0</text>
<text x="1334.25" y="611.6" font-size="25.2">50</text>
<path d="M1147.7,587.1 h-3.7 M1147.7,500.1 h-3.7 M1147.7,411.6 h-3.7 M1156.3,587.1 v3.7 M1347.1,587.1 v3.7" stroke="#000" stroke-width="1.1"/>
<text><tspan x="1231.49" y="626.4" font-size="20" font-style="italic">R</tspan><tspan x="1248.7" y="626.4" font-size="20">(kpc)</tspan></text>
<text transform="translate(1091,489.5) rotate(-90)"><tspan x="-44.01" y="0" font-size="20" font-style="italic">V</tspan><tspan x="-27.75" y="0" font-size="20">(</tspan><tspan x="-20.95" y="0" font-size="20">km</tspan><tspan x="10.01" y="0" font-size="20">s</tspan><tspan x="18.76" y="-4" font-size="15.5">−</tspan><tspan x="27.85" y="-6.3" font-size="13.5">1</tspan><tspan x="37.19" y="0" font-size="20">)</tspan></text>
</g>
<g id="p2">
<clipPath id="c2"><rect x="1558.4" y="43.4" width="595.4" height="595.7"/></clipPath>
<g clip-path="url(#c2)">
<polyline points="1785.92,379.68 1817.67,335.48 1810.88,318.94 1799.75,315.03 1798.25,319.24 1797.65,322.85 1792.54,323.45 1785.92,327.06 1783.82,329.77 1779.91,338.48 1778.71,344.2 1775.7,349.91 1774.2,353.52 1772.09,361.94 1745.33,378.17" stroke="#000" stroke-width="1" fill="none"/>
<circle cx="1785.92" cy="327.06" r="2.6" fill="#0000ff"/>
<circle cx="1783.82" cy="329.77" r="2.6" fill="#0000ff"/>
<circle cx="1779.91" cy="338.48" r="2.6" fill="#0000ff"/>
<circle cx="1778.71" cy="344.2" r="2.6" fill="#0000ff"/>
<circle cx="1775.7" cy="349.91" r="2.6" fill="#0000ff"/>
<circle cx="1774.2" cy="353.52" r="2.6" fill="#0000ff"/>
<circle cx="1772.09" cy="361.94" r="2.6" fill="#0000ff"/>
<circle cx="1745.33" cy="378.17" r="2.6" fill="#0000ff"/>
<circle cx="1785.92" cy="379.68" r="2.6" fill="#ff0000"/>
<circle cx="1817.67" cy="335.48" r="2.6" fill="#ff0000"/>
<circle cx="1810.88" cy="318.94" r="2.6" fill="#ff0000"/>
<circle cx="1799.75" cy="315.03" r="2.6" fill="#ff0000"/>
<circle cx="1798.25" cy="319.24" r="2.6" fill="#ff0000"/>
<circle cx="1797.65" cy="322.85" r="2.6" fill="#ff0000"/>
<circle cx="1792.54" cy="323.45" r="2.6" fill="#ff0000"/>
<path d="M1558.4,639.1 L2153.8,43.4" stroke="#000" stroke-width="3" stroke-dasharray="11.3 4.9" fill="none"/>
<path d="M1558.4,454.93 L1560.88,453.67 L1563.36,452.41 L1565.84,451.15 L1568.32,449.89 L1570.8,448.63 L1573.29,447.36 L1575.77,446.1 L1578.25,444.84 L1580.73,443.58 L1583.21,442.31 L1585.69,441.05 L1588.17,439.78 L1590.65,438.52 L1593.13,437.25 L1595.61,435.99 L1598.09,434.72 L1600.57,433.45 L1603.06,432.18 L1605.54,430.92 L1608.02,429.65 L1610.5,428.38 L1612.98,427.1 L1615.46,425.83 L1617.94,424.56 L1620.42,423.29 L1622.9,422.01 L1625.38,420.74 L1627.86,419.46 L1630.34,418.19 L1632.83,416.91 L1635.31,415.63 L1637.79,414.35 L1640.27,413.07 L1642.75,411.79 L1645.23,410.51 L1647.71,409.23 L1650.19,407.94 L1652.67,406.66 L1655.15,405.37 L1657.63,404.08 L1660.11,402.79 L1662.6,401.5 L1665.08,400.21 L1667.56,398.92 L1670.04,397.63 L1672.52,396.33 L1675,395.04 L1677.48,393.74 L1679.96,392.44 L1682.44,391.14 L1684.92,389.84 L1687.4,388.54 L1689.88,387.24 L1692.37,385.93 L1694.85,384.62 L1697.33,383.32 L1699.81,382 L1702.29,380.69 L1704.77,379.38 L1707.25,378.06 L1709.73,376.75 L1712.21,375.43 L1714.69,374.11 L1717.17,372.78 L1719.65,371.46 L1722.13,370.13 L1724.62,368.8 L1727.1,367.47 L1729.58,366.14 L1732.06,364.8 L1734.54,363.46 L1737.02,362.12 L1739.5,360.78 L1741.98,359.44 L1744.46,358.09 L1746.94,356.74 L1749.42,355.38 L1751.91,354.03 L1754.39,352.67 L1756.87,351.31 L1759.35,349.95 L1761.83,348.58 L1764.31,347.21 L1766.79,345.84 L1769.27,344.46 L1771.75,343.08 L1774.23,341.7 L1776.71,340.31 L1779.19,338.92 L1781.68,337.53 L1784.16,336.13 L1786.64,334.73 L1789.12,333.33 L1791.6,331.92 L1794.08,330.51 L1796.56,329.09 L1799.04,327.67 L1801.52,326.25 L1804,324.82 L1806.48,323.38 L1808.96,321.94 L1811.45,320.5 L1813.93,319.05 L1816.41,317.6 L1818.89,316.14 L1821.37,314.68 L1823.85,313.21 L1826.33,311.74 L1828.81,310.26 L1831.29,308.78 L1833.77,307.29 L1836.25,305.79 L1838.73,304.29 L1841.22,302.79 L1843.7,301.27 L1846.18,299.75 L1848.66,298.23 L1851.14,296.69 L1853.62,295.16 L1856.1,293.61 L1858.58,292.06 L1861.06,290.5 L1863.54,288.93 L1866.02,287.35 L1868.5,285.77 L1870.99,284.18 L1873.47,282.58 L1875.95,280.98 L1878.43,279.36 L1880.91,277.74 L1883.39,276.11 L1885.87,274.47 L1888.35,272.83 L1890.83,271.17 L1893.31,269.51 L1895.79,267.83 L1898.27,266.15 L1900.76,264.46 L1903.24,262.75 L1905.72,261.04 L1908.2,259.32 L1910.68,257.59 L1913.16,255.85 L1915.64,254.1 L1918.12,252.34 L1920.6,250.56 L1923.08,248.78 L1925.56,246.99 L1928.04,245.19 L1930.53,243.37 L1933.01,241.55 L1935.49,239.71 L1937.97,237.86 L1940.45,236 L1942.93,234.14 L1945.41,232.25 L1947.89,230.36 L1950.37,228.46 L1952.85,226.54 L1955.33,224.62 L1957.81,222.68 L1960.3,220.73 L1962.78,218.77 L1965.26,216.8 L1967.74,214.82 L1970.22,212.82 L1972.7,210.82 L1975.18,208.8 L1977.66,206.77 L1980.14,204.73 L1982.62,202.68 L1985.1,200.62 L1987.58,198.54 L1990.07,196.46 L1992.55,194.36 L1995.03,192.26 L1997.51,190.14 L1999.99,188.01 L2002.47,185.88 L2004.95,183.73 L2007.43,181.57 L2009.91,179.4 L2012.39,177.23 L2014.87,175.04 L2017.35,172.84 L2019.84,170.64 L2022.32,168.42 L2024.8,166.2 L2027.28,163.97 L2029.76,161.73 L2032.24,159.48 L2034.72,157.22 L2037.2,154.96 L2039.68,152.68 L2042.16,150.4 L2044.64,148.11 L2047.12,145.82 L2049.61,143.52 L2052.09,141.21 L2054.57,138.89 L2057.05,136.57 L2059.53,134.24 L2062.01,131.91 L2064.49,129.57 L2066.97,127.23 L2069.45,124.88 L2071.93,122.52 L2074.41,120.16 L2076.89,117.79 L2079.38,115.42 L2081.86,113.05 L2084.34,110.67 L2086.82,108.28 L2089.3,105.9 L2091.78,103.51 L2094.26,101.11 L2096.74,98.71 L2099.22,96.31 L2101.7,93.9 L2104.18,91.49 L2106.66,89.08 L2109.14,86.66 L2111.63,84.25 L2114.11,81.82 L2116.59,79.4 L2119.07,76.97 L2121.55,74.55 L2124.03,72.11 L2126.51,69.68 L2128.99,67.25 L2131.47,64.81 L2133.95,62.37 L2136.43,59.93 L2138.91,57.48 L2141.4,55.04 L2143.88,52.59 L2146.36,50.14 L2148.84,47.69 L2151.32,45.24 L2153.8,42.79" stroke="#000" stroke-width="3" fill="none" stroke-linejoin="round"/>
</g>
<rect x="1558.4" y="43.4" width="595.4" height="595.7" fill="none" stroke="#000" stroke-width="1.5"/>
<path d="M1558.4,639.1 v3.7 M1558.4,639.1 h-3.7 M1677.48,639.1 v3.7 M1558.4,519.96 h-3.7 M1796.56,639.1 v3.7 M1558.4,400.82 h-3.7 M1915.64,639.1 v3.7 M1558.4,281.68 h-3.7 M2034.72,639.1 v3.7 M1558.4,162.54 h-3.7 M2153.8,639.1 v3.7 M1558.4,43.4 h-3.7" stroke="#000" stroke-width="1.1"/>
<text font-size="25.2"><tspan x="1536.97" y="667.29" font-size="29.5">−</tspan><tspan x="1554.15" y="664">13</tspan></text>
<text font-size="25.2"><tspan x="1508.5" y="650.79" font-size="29.5">−</tspan><tspan x="1525.68" y="647.49">13</tspan></text>
<text font-size="25.2"><tspan x="1656.25" y="667.29" font-size="29.5">−</tspan><tspan x="1673.43" y="664">12</tspan></text>
<text font-size="25.2"><tspan x="1508.91" y="531.65" font-size="29.5">−</tspan><tspan x="1526.09" y="528.35">12</tspan></text>
<text font-size="25.2"><tspan x="1775.39" y="667.29" font-size="29.5">−</tspan><tspan x="1792.57" y="664">11</tspan></text>
<text font-size="25.2"><tspan x="1509.03" y="412.51" font-size="29.5">−</tspan><tspan x="1526.21" y="409.21">11</tspan></text>
<text font-size="25.2"><tspan x="1894.19" y="667.29" font-size="29.5">−</tspan><tspan x="1911.38" y="664">10</tspan></text>
<text font-size="25.2"><tspan x="1508.48" y="293.37" font-size="29.5">−</tspan><tspan x="1525.66" y="290.07">10</tspan></text>
<text font-size="25.2"><tspan x="2018.91" y="667.29" font-size="29.5">−</tspan><tspan x="2037.49" y="664">9</tspan></text>
<text font-size="25.2"><tspan x="1519.75" y="174.23" font-size="29.5">−</tspan><tspan x="1538.33" y="170.93">9</tspan></text>
<text font-size="25.2"><tspan x="2138.03" y="667.29" font-size="29.5">−</tspan><tspan x="2156.46" y="664">8</tspan></text>
<text font-size="25.2"><tspan x="1519.82" y="55.09" font-size="29.5">−</tspan><tspan x="1538.26" y="51.79">8</tspan></text>
<text transform="translate(1723.6,31.2) scale(0.932,1)" font-size="43.6" font-weight="bold">F568-V1</text>
<text><tspan x="1881.61" y="31.2" font-size="42.2">(</tspan><tspan x="1895.14" y="31.2" font-size="42.2" font-style="italic">T</tspan><tspan x="1956.18" y="31.2" font-size="42.2">7</tspan><tspan x="1976.91" y="31.2" font-size="42.2">)</tspan></text>
<text transform="translate(1923.84,34.1) scale(1.22,1)" font-size="42.2" stroke="#000" stroke-width="0.7">=</text>
<text><tspan x="1723.87" y="707.7" font-size="37.9">log</tspan><tspan x="1774.5" y="713.1" font-size="26.5">10</tspan><tspan x="1809.41" y="707.7" font-size="37.9" font-style="italic">g</tspan><tspan x="1830.23" y="713.1" font-size="26.5">bar</tspan><tspan x="1874.27" y="707.7" font-size="37.9">(</tspan><tspan x="1886.74" y="707.7" font-size="37.9">m</tspan><tspan x="1927.38" y="707.7" font-size="37.9">s</tspan><tspan x="1943.39" y="696.6" font-size="31">−</tspan><tspan x="1960.87" y="692.7" font-size="26.5">2</tspan><tspan x="1976.61" y="707.7" font-size="37.9">)</tspan></text>
<text transform="translate(1492,340.95) rotate(-90)"><tspan x="-134.08" y="0" font-size="37.9">log</tspan><tspan x="-83.45" y="5.4" font-size="26.5">10</tspan><tspan x="-48.54" y="0" font-size="37.9" font-style="italic">g</tspan><tspan x="-28.73" y="5.4" font-size="26.5">obs</tspan><tspan x="20.02" y="0" font-size="37.9">(</tspan><tspan x="32.49" y="0" font-size="37.9">m</tspan><tspan x="73.13" y="0" font-size="37.9">s</tspan><tspan x="89.14" y="-11.1" font-size="31">−</tspan><tspan x="106.62" y="-15" font-size="26.5">2</tspan><tspan x="122.36" y="0" font-size="37.9">)</tspan></text>
<circle cx="1594.1" cy="71.2" r="2.7" fill="#ff0000"/>
<circle cx="1594.1" cy="106.4" r="2.7" fill="#0000ff"/>
<text x="1605.57" y="79" font-size="20.4">inner (rising) part</text>
<text x="1605.22" y="114.7" font-size="20.4">outer part</text>
</g>
<g id="in2">
<rect x="1876.1" y="391.3" width="225.8" height="195.8" fill="#fff"/>
<clipPath id="ic2"><rect x="1876.1" y="391.3" width="225.8" height="195.8"/></clipPath>
<g clip-path="url(#ic2)">
<circle cx="1887.73" cy="562.06" r="3.4" fill="#ff0000"/>
<circle cx="1896.42" cy="517.59" r="3.4" fill="#ff0000"/>
<circle cx="1905.97" cy="483.71" r="3.4" fill="#ff0000"/>
<circle cx="1914.66" cy="459.57" r="3.4" fill="#ff0000"/>
<circle cx="1924.56" cy="446.88" r="3.4" fill="#ff0000"/>
<circle cx="1934.29" cy="436.46" r="3.4" fill="#ff0000"/>
<circle cx="1943.32" cy="424.82" r="3.4" fill="#ff0000"/>
<circle cx="1952.53" cy="418.57" r="3.4" fill="#0000ff"/>
<circle cx="1958.44" cy="417" r="3.4" fill="#0000ff"/>
<circle cx="1971.12" cy="417" r="3.4" fill="#0000ff"/>
<circle cx="1979.8" cy="418.57" r="3.4" fill="#0000ff"/>
<circle cx="1989.71" cy="420.3" r="3.4" fill="#0000ff"/>
<circle cx="1998.05" cy="420.3" r="3.4" fill="#0000ff"/>
<circle cx="2022.37" cy="417" r="3.4" fill="#0000ff"/>
<circle cx="2091.86" cy="409.19" r="3.4" fill="#0000ff"/>
<polyline points="1887.73,562.06 1896.42,517.59 1905.97,483.71 1914.66,459.57 1924.56,446.88 1934.29,436.46 1943.32,424.82 1952.53,418.57 1958.44,417 1971.12,417 1979.8,418.57 1989.71,420.3 1998.05,420.3 2022.37,417 2091.86,409.19" stroke="#000" stroke-width="1.5" fill="none" stroke-linejoin="round"/>
<path d="M1917.79,577 V582.6" stroke="#000000" stroke-width="1.6" stroke-linecap="round"/><path d="M1914.99,582.1 L1920.59,582.1 L1917.79,586.3 Z" fill="#000000"/>
<path d="M1936.03,577 V582.6" stroke="#008000" stroke-width="1.6" stroke-linecap="round"/><path d="M1933.23,582.1 L1938.83,582.1 L1936.03,586.3 Z" fill="#008000"/>
<path d="M2055.9,577 V582.6" stroke="#bf00bf" stroke-width="1.6" stroke-linecap="round"/><path d="M2053.1,582.1 L2058.7,582.1 L2055.9,586.3 Z" fill="#bf00bf"/>
</g>
<rect x="2016" y="508.7" width="79.2" height="71.5" rx="2.8" fill="#fff" fill-opacity="0.8" stroke="#d6d6d6" stroke-width="1"/>
<path d="M2037.6,517.4 V523" stroke="#000000" stroke-width="1.6" stroke-linecap="round"/><path d="M2034.8,522.5 L2040.4,522.5 L2037.6,526.7 Z" fill="#000000"/>
<text font-size="13.8"><tspan x="2066.37" y="525" font-style="italic">R</tspan><tspan x="2075.3" y="526.5" font-size="9.8">d</tspan></text>
<path d="M2037.6,539.6 V545.2" stroke="#008000" stroke-width="1.6" stroke-linecap="round"/><path d="M2034.8,544.7 L2040.4,544.7 L2037.6,548.9 Z" fill="#008000"/>
<text font-size="13.8"><tspan x="2066.37" y="547.2" font-style="italic">R</tspan><tspan x="2075.3" y="548.7" font-size="9.8">eff</tspan></text>
<path d="M2037.6,561.8 V567.4" stroke="#bf00bf" stroke-width="1.6" stroke-linecap="round"/><path d="M2034.8,566.9 L2040.4,566.9 L2037.6,571.1 Z" fill="#bf00bf"/>
<text font-size="13.8"><tspan x="2066.37" y="569.4" font-style="italic">R</tspan><tspan x="2075.3" y="570.9" font-size="9.8">HI</tspan></text>
<rect x="1876.1" y="391.3" width="225.8" height="195.8" fill="none" stroke="#000" stroke-width="1.5"/>
<text x="1856.46" y="595.36" font-size="25.2">0</text>
<text x="1843.86" y="499.46" font-size="25.2">50</text>
<text x="1831.26" y="403.56" font-size="25.2">100</text>
<text x="1877.1" y="611.6" font-size="25.2">0</text>
<text x="1985.37" y="611.6" font-size="25.2">10</text>
<path d="M1876.1,587.1 h-3.7 M1876.1,491.2 h-3.7 M1876.1,395.3 h-3.7 M1883.4,587.1 v3.7 M1998.6,587.1 v3.7" stroke="#000" stroke-width="1.1"/>
<text><tspan x="1959.79" y="626.4" font-size="20" font-style="italic">R</tspan><tspan x="1977" y="626.4" font-size="20">(kpc)</tspan></text>
<text transform="translate(1819.7,489.5) rotate(-90)"><tspan x="-44.01" y="0" font-size="20" font-style="italic">V</tspan><tspan x="-27.75" y="0" font-size="20">(</tspan><tspan x="-20.95" y="0" font-size="20">km</tspan><tspan x="10.01" y="0" font-size="20">s</tspan><tspan x="18.76" y="-4" font-size="15.5">−</tspan><tspan x="27.85" y="-6.3" font-size="13.5">1</tspan><tspan x="37.19" y="0" font-size="20">)</tspan></text>
</g>
<g id="p3">
<clipPath id="c3"><rect x="101.7" y="824.8" width="595.4" height="595.7"/></clipPath>
<g clip-path="url(#c3)">
<polyline points="371.22,1088.28 379.24,1083.07 387.25,1077.66 386.05,1069.24 390.26,1067.03 394.67,1070.64 392.67,1074.65 395.27,1078.06 402.08,1085.47 405.69,1096.09 405.49,1093.29 409.5,1072.65 401.88,1069.64" stroke="#000" stroke-width="1" fill="none"/>
<circle cx="371.22" cy="1088.28" r="2.6" fill="#ff0000"/>
<circle cx="379.24" cy="1083.07" r="2.6" fill="#ff0000"/>
<circle cx="387.25" cy="1077.66" r="2.6" fill="#ff0000"/>
<circle cx="386.05" cy="1069.24" r="2.6" fill="#ff0000"/>
<circle cx="390.26" cy="1067.03" r="2.6" fill="#ff0000"/>
<circle cx="394.67" cy="1070.64" r="2.6" fill="#ff0000"/>
<circle cx="392.67" cy="1074.65" r="2.6" fill="#ff0000"/>
<circle cx="402.08" cy="1085.47" r="2.6" fill="#ff0000"/>
<circle cx="405.69" cy="1096.09" r="2.6" fill="#ff0000"/>
<circle cx="405.49" cy="1093.29" r="2.6" fill="#ff0000"/>
<circle cx="409.5" cy="1072.65" r="2.6" fill="#ff0000"/>
<circle cx="401.88" cy="1069.64" r="2.6" fill="#ff0000"/>
<path d="M101.7,1420.5 L697.1,824.8" stroke="#000" stroke-width="3" stroke-dasharray="11.3 4.9" fill="none"/>
<path d="M101.7,1236.33 L104.18,1235.07 L106.66,1233.81 L109.14,1232.55 L111.62,1231.29 L114.1,1230.03 L116.59,1228.76 L119.07,1227.5 L121.55,1226.24 L124.03,1224.98 L126.51,1223.71 L128.99,1222.45 L131.47,1221.18 L133.95,1219.92 L136.43,1218.65 L138.91,1217.39 L141.39,1216.12 L143.87,1214.85 L146.36,1213.58 L148.84,1212.32 L151.32,1211.05 L153.8,1209.78 L156.28,1208.5 L158.76,1207.23 L161.24,1205.96 L163.72,1204.69 L166.2,1203.41 L168.68,1202.14 L171.16,1200.86 L173.64,1199.59 L176.12,1198.31 L178.61,1197.03 L181.09,1195.75 L183.57,1194.47 L186.05,1193.19 L188.53,1191.91 L191.01,1190.63 L193.49,1189.34 L195.97,1188.06 L198.45,1186.77 L200.93,1185.48 L203.41,1184.19 L205.89,1182.9 L208.38,1181.61 L210.86,1180.32 L213.34,1179.03 L215.82,1177.73 L218.3,1176.44 L220.78,1175.14 L223.26,1173.84 L225.74,1172.54 L228.22,1171.24 L230.7,1169.94 L233.18,1168.64 L235.67,1167.33 L238.15,1166.02 L240.63,1164.72 L243.11,1163.4 L245.59,1162.09 L248.07,1160.78 L250.55,1159.46 L253.03,1158.15 L255.51,1156.83 L257.99,1155.51 L260.47,1154.18 L262.95,1152.86 L265.44,1151.53 L267.92,1150.2 L270.4,1148.87 L272.88,1147.54 L275.36,1146.2 L277.84,1144.86 L280.32,1143.52 L282.8,1142.18 L285.28,1140.84 L287.76,1139.49 L290.24,1138.14 L292.72,1136.78 L295.2,1135.43 L297.69,1134.07 L300.17,1132.71 L302.65,1131.35 L305.13,1129.98 L307.61,1128.61 L310.09,1127.24 L312.57,1125.86 L315.05,1124.48 L317.53,1123.1 L320.01,1121.71 L322.49,1120.32 L324.98,1118.93 L327.46,1117.53 L329.94,1116.13 L332.42,1114.73 L334.9,1113.32 L337.38,1111.91 L339.86,1110.49 L342.34,1109.07 L344.82,1107.65 L347.3,1106.22 L349.78,1104.78 L352.26,1103.34 L354.75,1101.9 L357.23,1100.45 L359.71,1099 L362.19,1097.54 L364.67,1096.08 L367.15,1094.61 L369.63,1093.14 L372.11,1091.66 L374.59,1090.18 L377.07,1088.69 L379.55,1087.19 L382.03,1085.69 L384.51,1084.19 L387,1082.67 L389.48,1081.15 L391.96,1079.63 L394.44,1078.09 L396.92,1076.56 L399.4,1075.01 L401.88,1073.46 L404.36,1071.9 L406.84,1070.33 L409.32,1068.75 L411.8,1067.17 L414.28,1065.58 L416.77,1063.98 L419.25,1062.38 L421.73,1060.76 L424.21,1059.14 L426.69,1057.51 L429.17,1055.87 L431.65,1054.23 L434.13,1052.57 L436.61,1050.91 L439.09,1049.23 L441.57,1047.55 L444.06,1045.86 L446.54,1044.15 L449.02,1042.44 L451.5,1040.72 L453.98,1038.99 L456.46,1037.25 L458.94,1035.5 L461.42,1033.74 L463.9,1031.96 L466.38,1030.18 L468.86,1028.39 L471.34,1026.59 L473.82,1024.77 L476.31,1022.95 L478.79,1021.11 L481.27,1019.26 L483.75,1017.4 L486.23,1015.54 L488.71,1013.65 L491.19,1011.76 L493.67,1009.86 L496.15,1007.94 L498.63,1006.02 L501.11,1004.08 L503.59,1002.13 L506.08,1000.17 L508.56,998.2 L511.04,996.22 L513.52,994.22 L516,992.22 L518.48,990.2 L520.96,988.17 L523.44,986.13 L525.92,984.08 L528.4,982.02 L530.88,979.94 L533.37,977.86 L535.85,975.76 L538.33,973.66 L540.81,971.54 L543.29,969.41 L545.77,967.28 L548.25,965.13 L550.73,962.97 L553.21,960.8 L555.69,958.63 L558.17,956.44 L560.65,954.24 L563.13,952.04 L565.62,949.82 L568.1,947.6 L570.58,945.37 L573.06,943.13 L575.54,940.88 L578.02,938.62 L580.5,936.36 L582.98,934.08 L585.46,931.8 L587.94,929.51 L590.42,927.22 L592.9,924.92 L595.39,922.61 L597.87,920.29 L600.35,917.97 L602.83,915.64 L605.31,913.31 L607.79,910.97 L610.27,908.63 L612.75,906.28 L615.23,903.92 L617.71,901.56 L620.19,899.19 L622.68,896.82 L625.16,894.45 L627.64,892.07 L630.12,889.68 L632.6,887.3 L635.08,884.91 L637.56,882.51 L640.04,880.11 L642.52,877.71 L645,875.3 L647.48,872.89 L649.96,870.48 L652.45,868.06 L654.93,865.65 L657.41,863.22 L659.89,860.8 L662.37,858.37 L664.85,855.95 L667.33,853.51 L669.81,851.08 L672.29,848.65 L674.77,846.21 L677.25,843.77 L679.73,841.33 L682.22,838.88 L684.7,836.44 L687.18,833.99 L689.66,831.54 L692.14,829.09 L694.62,826.64 L697.1,824.19" stroke="#000" stroke-width="3" fill="none" stroke-linejoin="round"/>
</g>
<rect x="101.7" y="824.8" width="595.4" height="595.7" fill="none" stroke="#000" stroke-width="1.5"/>
<path d="M101.7,1420.5 v3.7 M101.7,1420.5 h-3.7 M220.78,1420.5 v3.7 M101.7,1301.36 h-3.7 M339.86,1420.5 v3.7 M101.7,1182.22 h-3.7 M458.94,1420.5 v3.7 M101.7,1063.08 h-3.7 M578.02,1420.5 v3.7 M101.7,943.94 h-3.7 M697.1,1420.5 v3.7 M101.7,824.8 h-3.7" stroke="#000" stroke-width="1.1"/>
<text font-size="21.7"><tspan x="83.04" y="1445.47" font-size="25.8">−</tspan><tspan x="98.22" y="1442.7">13</tspan></text>
<text font-size="21.7"><tspan x="57.86" y="1430.49" font-size="25.8">−</tspan><tspan x="73.05" y="1427.73">13</tspan></text>
<text font-size="21.7"><tspan x="202.29" y="1445.47" font-size="25.8">−</tspan><tspan x="217.48" y="1442.7">12</tspan></text>
<text font-size="21.7"><tspan x="58.21" y="1311.35" font-size="25.8">−</tspan><tspan x="73.4" y="1308.59">12</tspan></text>
<text font-size="21.7"><tspan x="321.43" y="1445.47" font-size="25.8">−</tspan><tspan x="336.61" y="1442.7">11</tspan></text>
<text font-size="21.7"><tspan x="58.32" y="1192.21" font-size="25.8">−</tspan><tspan x="73.5" y="1189.45">11</tspan></text>
<text font-size="21.7"><tspan x="440.27" y="1445.47" font-size="25.8">−</tspan><tspan x="455.45" y="1442.7">10</tspan></text>
<text font-size="21.7"><tspan x="57.84" y="1073.07" font-size="25.8">−</tspan><tspan x="73.03" y="1070.31">10</tspan></text>
<text font-size="21.7"><tspan x="564.2" y="1445.47" font-size="25.8">−</tspan><tspan x="580.59" y="1442.7">9</tspan></text>
<text font-size="21.7"><tspan x="67.55" y="953.93" font-size="25.8">−</tspan><tspan x="83.94" y="951.17">9</tspan></text>
<text font-size="21.7"><tspan x="683.31" y="1445.47" font-size="25.8">−</tspan><tspan x="699.58" y="1442.7">8</tspan></text>
<text font-size="21.7"><tspan x="67.61" y="834.79" font-size="25.8">−</tspan><tspan x="83.88" y="832.03">8</tspan></text>
<text transform="translate(215.28,812.6) scale(0.932,1)" font-size="43.6" font-weight="bold">ESO079-G014</text>
<text><tspan x="474.02" y="812.6" font-size="42.2">(</tspan><tspan x="487.55" y="812.6" font-size="42.2" font-style="italic">T</tspan><tspan x="550.55" y="812.6" font-size="42.2">4</tspan><tspan x="571.83" y="812.6" font-size="42.2">)</tspan></text>
<text transform="translate(516.25,815.5) scale(1.22,1)" font-size="42.2" stroke="#000" stroke-width="0.7">=</text>
<text><tspan x="267.17" y="1485.9" font-size="37.9">log</tspan><tspan x="317.8" y="1491.3" font-size="26.5">10</tspan><tspan x="352.71" y="1485.9" font-size="37.9" font-style="italic">g</tspan><tspan x="373.53" y="1491.3" font-size="26.5">bar</tspan><tspan x="417.57" y="1485.9" font-size="37.9">(</tspan><tspan x="430.04" y="1485.9" font-size="37.9">m</tspan><tspan x="470.68" y="1485.9" font-size="37.9">s</tspan><tspan x="486.69" y="1474.8" font-size="31">−</tspan><tspan x="504.17" y="1470.9" font-size="26.5">2</tspan><tspan x="519.91" y="1485.9" font-size="37.9">)</tspan></text>
<text transform="translate(40.7,1122.35) rotate(-90)"><tspan x="-134.08" y="0" font-size="37.9">log</tspan><tspan x="-83.45" y="5.4" font-size="26.5">10</tspan><tspan x="-48.54" y="0" font-size="37.9" font-style="italic">g</tspan><tspan x="-28.73" y="5.4" font-size="26.5">obs</tspan><tspan x="20.02" y="0" font-size="37.9">(</tspan><tspan x="32.49" y="0" font-size="37.9">m</tspan><tspan x="73.13" y="0" font-size="37.9">s</tspan><tspan x="89.14" y="-11.1" font-size="31">−</tspan><tspan x="106.62" y="-15" font-size="26.5">2</tspan><tspan x="122.36" y="0" font-size="37.9">)</tspan></text>
<circle cx="137.4" cy="852.6" r="2.7" fill="#ff0000"/>
<circle cx="137.4" cy="887.8" r="2.7" fill="#0000ff"/>
<text x="148.87" y="860.4" font-size="20.4">inner (rising) part</text>
<text x="148.52" y="896.1" font-size="20.4">outer part</text>
</g>
<g id="in3">
<rect x="419.4" y="1172.7" width="225.8" height="195.8" fill="#fff"/>
<clipPath id="ic3"><rect x="419.4" y="1172.7" width="225.8" height="195.8"/></clipPath>
<g clip-path="url(#ic3)">
<circle cx="430.68" cy="1335.98" r="3.4" fill="#ff0000"/>
<circle cx="437.63" cy="1318.96" r="3.4" fill="#ff0000"/>
<circle cx="447.19" cy="1315.14" r="3.4" fill="#ff0000"/>
<circle cx="457.61" cy="1301.24" r="3.4" fill="#ff0000"/>
<circle cx="465.43" cy="1287.34" r="3.4" fill="#ff0000"/>
<circle cx="478.11" cy="1267.36" r="3.4" fill="#ff0000"/>
<circle cx="492.88" cy="1253.46" r="3.4" fill="#ff0000"/>
<circle cx="501.04" cy="1236.79" r="3.4" fill="#ff0000"/>
<circle cx="507.64" cy="1231.75" r="3.4" fill="#ff0000"/>
<circle cx="524.5" cy="1214.9" r="3.4" fill="#ff0000"/>
<circle cx="544.47" cy="1206.04" r="3.4" fill="#ff0000"/>
<circle cx="563.58" cy="1198.57" r="3.4" fill="#ff0000"/>
<circle cx="584.43" cy="1193.36" r="3.4" fill="#ff0000"/>
<circle cx="604.06" cy="1191.79" r="3.4" fill="#ff0000"/>
<circle cx="623.17" cy="1190.4" r="3.4" fill="#ff0000"/>
<polyline points="430.68,1335.98 437.63,1318.96 447.19,1315.14 457.61,1301.24 465.43,1287.34 478.11,1267.36 492.88,1253.46 501.04,1236.79 507.64,1231.75 524.5,1214.9 544.47,1206.04 563.58,1198.57 584.43,1193.36 604.06,1191.79 623.17,1190.4" stroke="#000" stroke-width="1.5" fill="none" stroke-linejoin="round"/>
<path d="M486.8,1358.4 V1364" stroke="#000000" stroke-width="1.6" stroke-linecap="round"/><path d="M484,1363.5 L489.6,1363.5 L486.8,1367.7 Z" fill="#000000"/>
<path d="M511.64,1358.4 V1364" stroke="#008000" stroke-width="1.6" stroke-linecap="round"/><path d="M508.84,1363.5 L514.44,1363.5 L511.64,1367.7 Z" fill="#008000"/>
<path d="M635.33,1358.4 V1364" stroke="#bf00bf" stroke-width="1.6" stroke-linecap="round"/><path d="M632.53,1363.5 L638.13,1363.5 L635.33,1367.7 Z" fill="#bf00bf"/>
</g>
<rect x="559.3" y="1290.1" width="79.2" height="71.5" rx="2.8" fill="#fff" fill-opacity="0.8" stroke="#d6d6d6" stroke-width="1"/>
<path d="M580.9,1298.8 V1304.4" stroke="#000000" stroke-width="1.6" stroke-linecap="round"/><path d="M578.1,1303.9 L583.7,1303.9 L580.9,1308.1 Z" fill="#000000"/>
<text font-size="13.8"><tspan x="609.67" y="1306.4" font-style="italic">R</tspan><tspan x="618.6" y="1307.9" font-size="9.8">d</tspan></text>
<path d="M580.9,1321 V1326.6" stroke="#008000" stroke-width="1.6" stroke-linecap="round"/><path d="M578.1,1326.1 L583.7,1326.1 L580.9,1330.3 Z" fill="#008000"/>
<text font-size="13.8"><tspan x="609.67" y="1328.6" font-style="italic">R</tspan><tspan x="618.6" y="1330.1" font-size="9.8">eff</tspan></text>
<path d="M580.9,1343.2 V1348.8" stroke="#bf00bf" stroke-width="1.6" stroke-linecap="round"/><path d="M578.1,1348.3 L583.7,1348.3 L580.9,1352.5 Z" fill="#bf00bf"/>
<text font-size="13.8"><tspan x="609.67" y="1350.8" font-style="italic">R</tspan><tspan x="618.6" y="1352.3" font-size="9.8">HI</tspan></text>
<rect x="419.4" y="1172.7" width="225.8" height="195.8" fill="none" stroke="#000" stroke-width="1.5"/>
<text x="401.38" y="1375.21" font-size="21.7">0</text>
<text x="390.53" y="1326.11" font-size="21.7">50</text>
<text x="379.68" y="1275.71" font-size="21.7">100</text>
<text x="379.68" y="1225.31" font-size="21.7">150</text>
<text x="420.18" y="1391.2" font-size="21.7">0</text>
<text x="533.11" y="1391.2" font-size="21.7">10</text>
<path d="M419.4,1368.1 h-3.7 M419.4,1319 h-3.7 M419.4,1268.6 h-3.7 M419.4,1218.2 h-3.7 M425.6,1368.5 v3.7 M544.5,1368.5 v3.7" stroke="#000" stroke-width="1.1"/>
<text><tspan x="496.74" y="1407.8" font-size="20" font-style="italic">R</tspan><tspan x="513.95" y="1407.8" font-size="20">(kpc)</tspan></text>
<text transform="translate(368,1270.9) rotate(-90)"><tspan x="-44.01" y="0" font-size="20" font-style="italic">V</tspan><tspan x="-27.75" y="0" font-size="20">(</tspan><tspan x="-20.95" y="0" font-size="20">km</tspan><tspan x="10.01" y="0" font-size="20">s</tspan><tspan x="18.76" y="-4" font-size="15.5">−</tspan><tspan x="27.85" y="-6.3" font-size="13.5">1</tspan><tspan x="37.19" y="0" font-size="20">)</tspan></text>
</g>
<g id="p4">
<clipPath id="c4"><rect x="830" y="824.8" width="595.4" height="595.7"/></clipPath>
<g clip-path="url(#c4)">
<polyline points="1029.54,1195.51 1043.44,1168.15 1049.52,1149.91 1050.82,1139.49 1051.69,1124.73 1055.16,1121.25 1054.29,1109.53 1053.42,1104.32 1056.03,1100.84 1058.2,1101.71 1057.33,1109.53 1053.86,1116.48 1051.51,1124.73 1047.78,1129.94 1042.83,1131.94 1038.23,1129.5 1032.58,1132.98" stroke="#000" stroke-width="1" fill="none"/>
<circle cx="1029.54" cy="1195.51" r="2.6" fill="#ff0000"/>
<circle cx="1043.44" cy="1168.15" r="2.6" fill="#ff0000"/>
<circle cx="1049.52" cy="1149.91" r="2.6" fill="#ff0000"/>
<circle cx="1050.82" cy="1139.49" r="2.6" fill="#ff0000"/>
<circle cx="1051.69" cy="1124.73" r="2.6" fill="#ff0000"/>
<circle cx="1055.16" cy="1121.25" r="2.6" fill="#ff0000"/>
<circle cx="1054.29" cy="1109.53" r="2.6" fill="#ff0000"/>
<circle cx="1053.42" cy="1104.32" r="2.6" fill="#ff0000"/>
<circle cx="1056.03" cy="1100.84" r="2.6" fill="#ff0000"/>
<circle cx="1058.2" cy="1101.71" r="2.6" fill="#ff0000"/>
<circle cx="1057.33" cy="1109.53" r="2.6" fill="#ff0000"/>
<circle cx="1053.86" cy="1116.48" r="2.6" fill="#ff0000"/>
<circle cx="1051.51" cy="1124.73" r="2.6" fill="#ff0000"/>
<circle cx="1047.78" cy="1129.94" r="2.6" fill="#ff0000"/>
<circle cx="1042.83" cy="1131.94" r="2.6" fill="#ff0000"/>
<circle cx="1038.23" cy="1129.5" r="2.6" fill="#ff0000"/>
<circle cx="1032.58" cy="1132.98" r="2.6" fill="#ff0000"/>
<path d="M830,1420.5 L1425.4,824.8" stroke="#000" stroke-width="3" stroke-dasharray="11.3 4.9" fill="none"/>
<path d="M830,1236.33 L832.48,1235.07 L834.96,1233.81 L837.44,1232.55 L839.92,1231.29 L842.4,1230.03 L844.88,1228.76 L847.37,1227.5 L849.85,1226.24 L852.33,1224.98 L854.81,1223.71 L857.29,1222.45 L859.77,1221.18 L862.25,1219.92 L864.73,1218.65 L867.21,1217.39 L869.69,1216.12 L872.17,1214.85 L874.65,1213.58 L877.14,1212.32 L879.62,1211.05 L882.1,1209.78 L884.58,1208.5 L887.06,1207.23 L889.54,1205.96 L892.02,1204.69 L894.5,1203.41 L896.98,1202.14 L899.46,1200.86 L901.94,1199.59 L904.42,1198.31 L906.91,1197.03 L909.39,1195.75 L911.87,1194.47 L914.35,1193.19 L916.83,1191.91 L919.31,1190.63 L921.79,1189.34 L924.27,1188.06 L926.75,1186.77 L929.23,1185.48 L931.71,1184.19 L934.19,1182.9 L936.68,1181.61 L939.16,1180.32 L941.64,1179.03 L944.12,1177.73 L946.6,1176.44 L949.08,1175.14 L951.56,1173.84 L954.04,1172.54 L956.52,1171.24 L959,1169.94 L961.48,1168.64 L963.97,1167.33 L966.45,1166.02 L968.93,1164.72 L971.41,1163.4 L973.89,1162.09 L976.37,1160.78 L978.85,1159.46 L981.33,1158.15 L983.81,1156.83 L986.29,1155.51 L988.77,1154.18 L991.25,1152.86 L993.74,1151.53 L996.22,1150.2 L998.7,1148.87 L1001.18,1147.54 L1003.66,1146.2 L1006.14,1144.86 L1008.62,1143.52 L1011.1,1142.18 L1013.58,1140.84 L1016.06,1139.49 L1018.54,1138.14 L1021.02,1136.78 L1023.5,1135.43 L1025.99,1134.07 L1028.47,1132.71 L1030.95,1131.35 L1033.43,1129.98 L1035.91,1128.61 L1038.39,1127.24 L1040.87,1125.86 L1043.35,1124.48 L1045.83,1123.1 L1048.31,1121.71 L1050.79,1120.32 L1053.28,1118.93 L1055.76,1117.53 L1058.24,1116.13 L1060.72,1114.73 L1063.2,1113.32 L1065.68,1111.91 L1068.16,1110.49 L1070.64,1109.07 L1073.12,1107.65 L1075.6,1106.22 L1078.08,1104.78 L1080.56,1103.34 L1083.05,1101.9 L1085.53,1100.45 L1088.01,1099 L1090.49,1097.54 L1092.97,1096.08 L1095.45,1094.61 L1097.93,1093.14 L1100.41,1091.66 L1102.89,1090.18 L1105.37,1088.69 L1107.85,1087.19 L1110.33,1085.69 L1112.82,1084.19 L1115.3,1082.67 L1117.78,1081.15 L1120.26,1079.63 L1122.74,1078.09 L1125.22,1076.56 L1127.7,1075.01 L1130.18,1073.46 L1132.66,1071.9 L1135.14,1070.33 L1137.62,1068.75 L1140.1,1067.17 L1142.59,1065.58 L1145.07,1063.98 L1147.55,1062.38 L1150.03,1060.76 L1152.51,1059.14 L1154.99,1057.51 L1157.47,1055.87 L1159.95,1054.23 L1162.43,1052.57 L1164.91,1050.91 L1167.39,1049.23 L1169.87,1047.55 L1172.36,1045.86 L1174.84,1044.15 L1177.32,1042.44 L1179.8,1040.72 L1182.28,1038.99 L1184.76,1037.25 L1187.24,1035.5 L1189.72,1033.74 L1192.2,1031.96 L1194.68,1030.18 L1197.16,1028.39 L1199.64,1026.59 L1202.12,1024.77 L1204.61,1022.95 L1207.09,1021.11 L1209.57,1019.26 L1212.05,1017.4 L1214.53,1015.54 L1217.01,1013.65 L1219.49,1011.76 L1221.97,1009.86 L1224.45,1007.94 L1226.93,1006.02 L1229.41,1004.08 L1231.89,1002.13 L1234.38,1000.17 L1236.86,998.2 L1239.34,996.22 L1241.82,994.22 L1244.3,992.22 L1246.78,990.2 L1249.26,988.17 L1251.74,986.13 L1254.22,984.08 L1256.7,982.02 L1259.18,979.94 L1261.66,977.86 L1264.15,975.76 L1266.63,973.66 L1269.11,971.54 L1271.59,969.41 L1274.07,967.28 L1276.55,965.13 L1279.03,962.97 L1281.51,960.8 L1283.99,958.63 L1286.47,956.44 L1288.95,954.24 L1291.43,952.04 L1293.92,949.82 L1296.4,947.6 L1298.88,945.37 L1301.36,943.13 L1303.84,940.88 L1306.32,938.62 L1308.8,936.36 L1311.28,934.08 L1313.76,931.8 L1316.24,929.51 L1318.72,927.22 L1321.2,924.92 L1323.69,922.61 L1326.17,920.29 L1328.65,917.97 L1331.13,915.64 L1333.61,913.31 L1336.09,910.97 L1338.57,908.63 L1341.05,906.28 L1343.53,903.92 L1346.01,901.56 L1348.49,899.19 L1350.97,896.82 L1353.46,894.45 L1355.94,892.07 L1358.42,889.68 L1360.9,887.3 L1363.38,884.91 L1365.86,882.51 L1368.34,880.11 L1370.82,877.71 L1373.3,875.3 L1375.78,872.89 L1378.26,870.48 L1380.74,868.06 L1383.23,865.65 L1385.71,863.22 L1388.19,860.8 L1390.67,858.37 L1393.15,855.95 L1395.63,853.51 L1398.11,851.08 L1400.59,848.65 L1403.07,846.21 L1405.55,843.77 L1408.03,841.33 L1410.51,838.88 L1413,836.44 L1415.48,833.99 L1417.96,831.54 L1420.44,829.09 L1422.92,826.64 L1425.4,824.19" stroke="#000" stroke-width="3" fill="none" stroke-linejoin="round"/>
</g>
<rect x="830" y="824.8" width="595.4" height="595.7" fill="none" stroke="#000" stroke-width="1.5"/>
<path d="M830,1420.5 v3.7 M830,1420.5 h-3.7 M949.08,1420.5 v3.7 M830,1301.36 h-3.7 M1068.16,1420.5 v3.7 M830,1182.22 h-3.7 M1187.24,1420.5 v3.7 M830,1063.08 h-3.7 M1306.32,1420.5 v3.7 M830,943.94 h-3.7 M1425.4,1420.5 v3.7 M830,824.8 h-3.7" stroke="#000" stroke-width="1.1"/>
<text font-size="21.7"><tspan x="811.34" y="1445.47" font-size="25.8">−</tspan><tspan x="826.52" y="1442.7">13</tspan></text>
<text font-size="21.7"><tspan x="786.16" y="1430.49" font-size="25.8">−</tspan><tspan x="801.35" y="1427.73">13</tspan></text>
<text font-size="21.7"><tspan x="930.59" y="1445.47" font-size="25.8">−</tspan><tspan x="945.78" y="1442.7">12</tspan></text>
<text font-size="21.7"><tspan x="786.51" y="1311.35" font-size="25.8">−</tspan><tspan x="801.7" y="1308.59">12</tspan></text>
<text font-size="21.7"><tspan x="1049.73" y="1445.47" font-size="25.8">−</tspan><tspan x="1064.91" y="1442.7">11</tspan></text>
<text font-size="21.7"><tspan x="786.62" y="1192.21" font-size="25.8">−</tspan><tspan x="801.8" y="1189.45">11</tspan></text>
<text font-size="21.7"><tspan x="1168.57" y="1445.47" font-size="25.8">−</tspan><tspan x="1183.75" y="1442.7">10</tspan></text>
<text font-size="21.7"><tspan x="786.14" y="1073.07" font-size="25.8">−</tspan><tspan x="801.33" y="1070.31">10</tspan></text>
<text font-size="21.7"><tspan x="1292.5" y="1445.47" font-size="25.8">−</tspan><tspan x="1308.89" y="1442.7">9</tspan></text>
<text font-size="21.7"><tspan x="795.85" y="953.93" font-size="25.8">−</tspan><tspan x="812.24" y="951.17">9</tspan></text>
<text font-size="21.7"><tspan x="1411.61" y="1445.47" font-size="25.8">−</tspan><tspan x="1427.88" y="1442.7">8</tspan></text>
<text font-size="21.7"><tspan x="795.91" y="834.79" font-size="25.8">−</tspan><tspan x="812.18" y="832.03">8</tspan></text>
<text transform="translate(1009.52,812.6) scale(0.932,1)" font-size="43.6" font-weight="bold">F568-3</text>
<text><tspan x="1138.9" y="812.6" font-size="42.2">(</tspan><tspan x="1152.43" y="812.6" font-size="42.2" font-style="italic">T</tspan><tspan x="1213.47" y="812.6" font-size="42.2">7</tspan><tspan x="1234.19" y="812.6" font-size="42.2">)</tspan></text>
<text transform="translate(1181.13,815.5) scale(1.22,1)" font-size="42.2" stroke="#000" stroke-width="0.7">=</text>
<text><tspan x="995.47" y="1485.9" font-size="37.9">log</tspan><tspan x="1046.1" y="1491.3" font-size="26.5">10</tspan><tspan x="1081.01" y="1485.9" font-size="37.9" font-style="italic">g</tspan><tspan x="1101.83" y="1491.3" font-size="26.5">bar</tspan><tspan x="1145.87" y="1485.9" font-size="37.9">(</tspan><tspan x="1158.34" y="1485.9" font-size="37.9">m</tspan><tspan x="1198.98" y="1485.9" font-size="37.9">s</tspan><tspan x="1214.99" y="1474.8" font-size="31">−</tspan><tspan x="1232.47" y="1470.9" font-size="26.5">2</tspan><tspan x="1248.21" y="1485.9" font-size="37.9">)</tspan></text>
<text transform="translate(769,1122.35) rotate(-90)"><tspan x="-134.08" y="0" font-size="37.9">log</tspan><tspan x="-83.45" y="5.4" font-size="26.5">10</tspan><tspan x="-48.54" y="0" font-size="37.9" font-style="italic">g</tspan><tspan x="-28.73" y="5.4" font-size="26.5">obs</tspan><tspan x="20.02" y="0" font-size="37.9">(</tspan><tspan x="32.49" y="0" font-size="37.9">m</tspan><tspan x="73.13" y="0" font-size="37.9">s</tspan><tspan x="89.14" y="-11.1" font-size="31">−</tspan><tspan x="106.62" y="-15" font-size="26.5">2</tspan><tspan x="122.36" y="0" font-size="37.9">)</tspan></text>
<circle cx="865.7" cy="852.6" r="2.7" fill="#ff0000"/>
<circle cx="865.7" cy="887.8" r="2.7" fill="#0000ff"/>
<text x="877.17" y="860.4" font-size="20.4">inner (rising) part</text>
<text x="876.82" y="896.1" font-size="20.4">outer part</text>
</g>
<g id="in4">
<rect x="1147.7" y="1172.7" width="225.8" height="195.8" fill="#fff"/>
<clipPath id="ic4"><rect x="1147.7" y="1172.7" width="225.8" height="195.8"/></clipPath>
<g clip-path="url(#ic4)">
<circle cx="1159.12" cy="1350.75" r="3.4" fill="#ff0000"/>
<circle cx="1165.03" cy="1336.85" r="3.4" fill="#ff0000"/>
<circle cx="1172.5" cy="1321.22" r="3.4" fill="#ff0000"/>
<circle cx="1175.45" cy="1313.22" r="3.4" fill="#ff0000"/>
<circle cx="1184.14" cy="1290.29" r="3.4" fill="#ff0000"/>
<circle cx="1186.4" cy="1276.05" r="3.4" fill="#ff0000"/>
<circle cx="1194.56" cy="1268.06" r="3.4" fill="#ff0000"/>
<circle cx="1200.64" cy="1253.29" r="3.4" fill="#ff0000"/>
<circle cx="1205.85" cy="1246.51" r="3.4" fill="#ff0000"/>
<circle cx="1212.45" cy="1241.3" r="3.4" fill="#ff0000"/>
<circle cx="1215.93" cy="1242.52" r="3.4" fill="#ff0000"/>
<circle cx="1225.48" cy="1236.44" r="3.4" fill="#ff0000"/>
<circle cx="1258.84" cy="1227.4" r="3.4" fill="#ff0000"/>
<circle cx="1271.17" cy="1224.63" r="3.4" fill="#ff0000"/>
<circle cx="1292.37" cy="1219.41" r="3.4" fill="#ff0000"/>
<circle cx="1316.34" cy="1209.86" r="3.4" fill="#ff0000"/>
<circle cx="1338.93" cy="1194.74" r="3.4" fill="#ff0000"/>
<circle cx="1363.25" cy="1190.4" r="3.4" fill="#ff0000"/>
<polyline points="1159.12,1350.75 1165.03,1336.85 1172.5,1321.22 1175.45,1313.22 1184.14,1290.29 1186.4,1276.05 1194.56,1268.06 1200.64,1253.29 1205.85,1246.51 1212.45,1241.3 1215.93,1242.52 1225.48,1236.44 1258.84,1227.4 1271.17,1224.63 1292.37,1219.41 1316.34,1209.86 1338.93,1194.74 1363.25,1190.4" stroke="#000" stroke-width="1.5" fill="none" stroke-linejoin="round"/>
<path d="M1210.72,1358.4 V1364" stroke="#000000" stroke-width="1.6" stroke-linecap="round"/><path d="M1207.92,1363.5 L1213.52,1363.5 L1210.72,1367.7 Z" fill="#000000"/>
<path d="M1239.9,1358.4 V1364" stroke="#008000" stroke-width="1.6" stroke-linecap="round"/><path d="M1237.1,1363.5 L1242.7,1363.5 L1239.9,1367.7 Z" fill="#008000"/>
<path d="M1341.88,1358.4 V1364" stroke="#bf00bf" stroke-width="1.6" stroke-linecap="round"/><path d="M1339.08,1363.5 L1344.68,1363.5 L1341.88,1367.7 Z" fill="#bf00bf"/>
</g>
<rect x="1287.6" y="1290.1" width="79.2" height="71.5" rx="2.8" fill="#fff" fill-opacity="0.8" stroke="#d6d6d6" stroke-width="1"/>
<path d="M1309.2,1298.8 V1304.4" stroke="#000000" stroke-width="1.6" stroke-linecap="round"/><path d="M1306.4,1303.9 L1312,1303.9 L1309.2,1308.1 Z" fill="#000000"/>
<text font-size="13.8"><tspan x="1337.97" y="1306.4" font-style="italic">R</tspan><tspan x="1346.9" y="1307.9" font-size="9.8">d</tspan></text>
<path d="M1309.2,1321 V1326.6" stroke="#008000" stroke-width="1.6" stroke-linecap="round"/><path d="M1306.4,1326.1 L1312,1326.1 L1309.2,1330.3 Z" fill="#008000"/>
<text font-size="13.8"><tspan x="1337.97" y="1328.6" font-style="italic">R</tspan><tspan x="1346.9" y="1330.1" font-size="9.8">eff</tspan></text>
<path d="M1309.2,1343.2 V1348.8" stroke="#bf00bf" stroke-width="1.6" stroke-linecap="round"/><path d="M1306.4,1348.3 L1312,1348.3 L1309.2,1352.5 Z" fill="#bf00bf"/>
<text font-size="13.8"><tspan x="1337.97" y="1350.8" font-style="italic">R</tspan><tspan x="1346.9" y="1352.3" font-size="9.8">HI</tspan></text>
<rect x="1147.7" y="1172.7" width="225.8" height="195.8" fill="none" stroke="#000" stroke-width="1.5"/>
<text x="1129.68" y="1375.21" font-size="21.7">0</text>
<text x="1118.83" y="1302.61" font-size="21.7">50</text>
<text x="1107.98" y="1227.51" font-size="21.7">100</text>
<text x="1146.58" y="1391.2" font-size="21.7">0</text>
<text x="1258.01" y="1391.2" font-size="21.7">10</text>
<path d="M1147.7,1368.1 h-3.7 M1147.7,1295.5 h-3.7 M1147.7,1220.4 h-3.7 M1152,1368.5 v3.7 M1269.4,1368.5 v3.7" stroke="#000" stroke-width="1.1"/>
<text><tspan x="1231.49" y="1407.8" font-size="20" font-style="italic">R</tspan><tspan x="1248.7" y="1407.8" font-size="20">(kpc)</tspan></text>
<text transform="translate(1096.2,1270.9) rotate(-90)"><tspan x="-44.01" y="0" font-size="20" font-style="italic">V</tspan><tspan x="-27.75" y="0" font-size="20">(</tspan><tspan x="-20.95" y="0" font-size="20">km</tspan><tspan x="10.01" y="0" font-size="20">s</tspan><tspan x="18.76" y="-4" font-size="15.5">−</tspan><tspan x="27.85" y="-6.3" font-size="13.5">1</tspan><tspan x="37.19" y="0" font-size="20">)</tspan></text>
</g>
<g id="p5">
<clipPath id="c5"><rect x="1558.4" y="824.8" width="595.4" height="595.7"/></clipPath>
<g clip-path="url(#c5)">
<polyline points="1789.64,1146.09 1810.28,1128.46 1809.68,1119.44 1804.27,1122.44 1797.05,1124.65 1791.84,1126.25" stroke="#000" stroke-width="1" fill="none"/>
<circle cx="1789.64" cy="1146.09" r="2.6" fill="#ff0000"/>
<circle cx="1810.28" cy="1128.46" r="2.6" fill="#ff0000"/>
<circle cx="1809.68" cy="1119.44" r="2.6" fill="#ff0000"/>
<circle cx="1804.27" cy="1122.44" r="2.6" fill="#ff0000"/>
<circle cx="1797.05" cy="1124.65" r="2.6" fill="#ff0000"/>
<circle cx="1791.84" cy="1126.25" r="2.6" fill="#ff0000"/>
<path d="M1558.4,1420.5 L2153.8,824.8" stroke="#000" stroke-width="3" stroke-dasharray="11.3 4.9" fill="none"/>
<path d="M1558.4,1236.33 L1560.88,1235.07 L1563.36,1233.81 L1565.84,1232.55 L1568.32,1231.29 L1570.8,1230.03 L1573.29,1228.76 L1575.77,1227.5 L1578.25,1226.24 L1580.73,1224.98 L1583.21,1223.71 L1585.69,1222.45 L1588.17,1221.18 L1590.65,1219.92 L1593.13,1218.65 L1595.61,1217.39 L1598.09,1216.12 L1600.57,1214.85 L1603.06,1213.58 L1605.54,1212.32 L1608.02,1211.05 L1610.5,1209.78 L1612.98,1208.5 L1615.46,1207.23 L1617.94,1205.96 L1620.42,1204.69 L1622.9,1203.41 L1625.38,1202.14 L1627.86,1200.86 L1630.34,1199.59 L1632.83,1198.31 L1635.31,1197.03 L1637.79,1195.75 L1640.27,1194.47 L1642.75,1193.19 L1645.23,1191.91 L1647.71,1190.63 L1650.19,1189.34 L1652.67,1188.06 L1655.15,1186.77 L1657.63,1185.48 L1660.11,1184.19 L1662.6,1182.9 L1665.08,1181.61 L1667.56,1180.32 L1670.04,1179.03 L1672.52,1177.73 L1675,1176.44 L1677.48,1175.14 L1679.96,1173.84 L1682.44,1172.54 L1684.92,1171.24 L1687.4,1169.94 L1689.88,1168.64 L1692.37,1167.33 L1694.85,1166.02 L1697.33,1164.72 L1699.81,1163.4 L1702.29,1162.09 L1704.77,1160.78 L1707.25,1159.46 L1709.73,1158.15 L1712.21,1156.83 L1714.69,1155.51 L1717.17,1154.18 L1719.65,1152.86 L1722.13,1151.53 L1724.62,1150.2 L1727.1,1148.87 L1729.58,1147.54 L1732.06,1146.2 L1734.54,1144.86 L1737.02,1143.52 L1739.5,1142.18 L1741.98,1140.84 L1744.46,1139.49 L1746.94,1138.14 L1749.42,1136.78 L1751.91,1135.43 L1754.39,1134.07 L1756.87,1132.71 L1759.35,1131.35 L1761.83,1129.98 L1764.31,1128.61 L1766.79,1127.24 L1769.27,1125.86 L1771.75,1124.48 L1774.23,1123.1 L1776.71,1121.71 L1779.19,1120.32 L1781.68,1118.93 L1784.16,1117.53 L1786.64,1116.13 L1789.12,1114.73 L1791.6,1113.32 L1794.08,1111.91 L1796.56,1110.49 L1799.04,1109.07 L1801.52,1107.65 L1804,1106.22 L1806.48,1104.78 L1808.96,1103.34 L1811.45,1101.9 L1813.93,1100.45 L1816.41,1099 L1818.89,1097.54 L1821.37,1096.08 L1823.85,1094.61 L1826.33,1093.14 L1828.81,1091.66 L1831.29,1090.18 L1833.77,1088.69 L1836.25,1087.19 L1838.73,1085.69 L1841.22,1084.19 L1843.7,1082.67 L1846.18,1081.15 L1848.66,1079.63 L1851.14,1078.09 L1853.62,1076.56 L1856.1,1075.01 L1858.58,1073.46 L1861.06,1071.9 L1863.54,1070.33 L1866.02,1068.75 L1868.5,1067.17 L1870.99,1065.58 L1873.47,1063.98 L1875.95,1062.38 L1878.43,1060.76 L1880.91,1059.14 L1883.39,1057.51 L1885.87,1055.87 L1888.35,1054.23 L1890.83,1052.57 L1893.31,1050.91 L1895.79,1049.23 L1898.27,1047.55 L1900.76,1045.86 L1903.24,1044.15 L1905.72,1042.44 L1908.2,1040.72 L1910.68,1038.99 L1913.16,1037.25 L1915.64,1035.5 L1918.12,1033.74 L1920.6,1031.96 L1923.08,1030.18 L1925.56,1028.39 L1928.04,1026.59 L1930.53,1024.77 L1933.01,1022.95 L1935.49,1021.11 L1937.97,1019.26 L1940.45,1017.4 L1942.93,1015.54 L1945.41,1013.65 L1947.89,1011.76 L1950.37,1009.86 L1952.85,1007.94 L1955.33,1006.02 L1957.81,1004.08 L1960.3,1002.13 L1962.78,1000.17 L1965.26,998.2 L1967.74,996.22 L1970.22,994.22 L1972.7,992.22 L1975.18,990.2 L1977.66,988.17 L1980.14,986.13 L1982.62,984.08 L1985.1,982.02 L1987.58,979.94 L1990.07,977.86 L1992.55,975.76 L1995.03,973.66 L1997.51,971.54 L1999.99,969.41 L2002.47,967.28 L2004.95,965.13 L2007.43,962.97 L2009.91,960.8 L2012.39,958.63 L2014.87,956.44 L2017.35,954.24 L2019.84,952.04 L2022.32,949.82 L2024.8,947.6 L2027.28,945.37 L2029.76,943.13 L2032.24,940.88 L2034.72,938.62 L2037.2,936.36 L2039.68,934.08 L2042.16,931.8 L2044.64,929.51 L2047.12,927.22 L2049.61,924.92 L2052.09,922.61 L2054.57,920.29 L2057.05,917.97 L2059.53,915.64 L2062.01,913.31 L2064.49,910.97 L2066.97,908.63 L2069.45,906.28 L2071.93,903.92 L2074.41,901.56 L2076.89,899.19 L2079.38,896.82 L2081.86,894.45 L2084.34,892.07 L2086.82,889.68 L2089.3,887.3 L2091.78,884.91 L2094.26,882.51 L2096.74,880.11 L2099.22,877.71 L2101.7,875.3 L2104.18,872.89 L2106.66,870.48 L2109.14,868.06 L2111.63,865.65 L2114.11,863.22 L2116.59,860.8 L2119.07,858.37 L2121.55,855.95 L2124.03,853.51 L2126.51,851.08 L2128.99,848.65 L2131.47,846.21 L2133.95,843.77 L2136.43,841.33 L2138.91,838.88 L2141.4,836.44 L2143.88,833.99 L2146.36,831.54 L2148.84,829.09 L2151.32,826.64 L2153.8,824.19" stroke="#000" stroke-width="3" fill="none" stroke-linejoin="round"/>
</g>
<rect x="1558.4" y="824.8" width="595.4" height="595.7" fill="none" stroke="#000" stroke-width="1.5"/>
<path d="M1558.4,1420.5 v3.7 M1558.4,1420.5 h-3.7 M1677.48,1420.5 v3.7 M1558.4,1301.36 h-3.7 M1796.56,1420.5 v3.7 M1558.4,1182.22 h-3.7 M1915.64,1420.5 v3.7 M1558.4,1063.08 h-3.7 M2034.72,1420.5 v3.7 M1558.4,943.94 h-3.7 M2153.8,1420.5 v3.7 M1558.4,824.8 h-3.7" stroke="#000" stroke-width="1.1"/>
<text font-size="21.7"><tspan x="1539.74" y="1445.47" font-size="25.8">−</tspan><tspan x="1554.92" y="1442.7">13</tspan></text>
<text font-size="21.7"><tspan x="1514.56" y="1430.49" font-size="25.8">−</tspan><tspan x="1529.75" y="1427.73">13</tspan></text>
<text font-size="21.7"><tspan x="1658.99" y="1445.47" font-size="25.8">−</tspan><tspan x="1674.18" y="1442.7">12</tspan></text>
<text font-size="21.7"><tspan x="1514.91" y="1311.35" font-size="25.8">−</tspan><tspan x="1530.1" y="1308.59">12</tspan></text>
<text font-size="21.7"><tspan x="1778.13" y="1445.47" font-size="25.8">−</tspan><tspan x="1793.31" y="1442.7">11</tspan></text>
<text font-size="21.7"><tspan x="1515.02" y="1192.21" font-size="25.8">−</tspan><tspan x="1530.2" y="1189.45">11</tspan></text>
<text font-size="21.7"><tspan x="1896.97" y="1445.47" font-size="25.8">−</tspan><tspan x="1912.15" y="1442.7">10</tspan></text>
<text font-size="21.7"><tspan x="1514.54" y="1073.07" font-size="25.8">−</tspan><tspan x="1529.73" y="1070.31">10</tspan></text>
<text font-size="21.7"><tspan x="2020.9" y="1445.47" font-size="25.8">−</tspan><tspan x="2037.29" y="1442.7">9</tspan></text>
<text font-size="21.7"><tspan x="1524.25" y="953.93" font-size="25.8">−</tspan><tspan x="1540.64" y="951.17">9</tspan></text>
<text font-size="21.7"><tspan x="2140.01" y="1445.47" font-size="25.8">−</tspan><tspan x="2156.28" y="1442.7">8</tspan></text>
<text font-size="21.7"><tspan x="1524.31" y="834.79" font-size="25.8">−</tspan><tspan x="1540.58" y="832.03">8</tspan></text>
<text transform="translate(1691.42,812.6) scale(0.932,1)" font-size="43.6" font-weight="bold">UGC05414</text>
<text><tspan x="1893.7" y="812.6" font-size="42.2">(</tspan><tspan x="1907.23" y="812.6" font-size="42.2" font-style="italic">T</tspan><tspan x="1967.34" y="812.6" font-size="42.2">10</tspan><tspan x="2008.77" y="812.6" font-size="42.2">)</tspan></text>
<text transform="translate(1935.93,815.5) scale(1.22,1)" font-size="42.2" stroke="#000" stroke-width="0.7">=</text>
<text><tspan x="1723.87" y="1485.9" font-size="37.9">log</tspan><tspan x="1774.5" y="1491.3" font-size="26.5">10</tspan><tspan x="1809.41" y="1485.9" font-size="37.9" font-style="italic">g</tspan><tspan x="1830.23" y="1491.3" font-size="26.5">bar</tspan><tspan x="1874.27" y="1485.9" font-size="37.9">(</tspan><tspan x="1886.74" y="1485.9" font-size="37.9">m</tspan><tspan x="1927.38" y="1485.9" font-size="37.9">s</tspan><tspan x="1943.39" y="1474.8" font-size="31">−</tspan><tspan x="1960.87" y="1470.9" font-size="26.5">2</tspan><tspan x="1976.61" y="1485.9" font-size="37.9">)</tspan></text>
<text transform="translate(1497.4,1122.35) rotate(-90)"><tspan x="-134.08" y="0" font-size="37.9">log</tspan><tspan x="-83.45" y="5.4" font-size="26.5">10</tspan><tspan x="-48.54" y="0" font-size="37.9" font-style="italic">g</tspan><tspan x="-28.73" y="5.4" font-size="26.5">obs</tspan><tspan x="20.02" y="0" font-size="37.9">(</tspan><tspan x="32.49" y="0" font-size="37.9">m</tspan><tspan x="73.13" y="0" font-size="37.9">s</tspan><tspan x="89.14" y="-11.1" font-size="31">−</tspan><tspan x="106.62" y="-15" font-size="26.5">2</tspan><tspan x="122.36" y="0" font-size="37.9">)</tspan></text>
<circle cx="1594.1" cy="852.6" r="2.7" fill="#ff0000"/>
<circle cx="1594.1" cy="887.8" r="2.7" fill="#0000ff"/>
<text x="1605.57" y="860.4" font-size="20.4">inner (rising) part</text>
<text x="1605.22" y="896.1" font-size="20.4">outer part</text>
</g>
<g id="in5">
<rect x="1876.1" y="1172.7" width="225.8" height="195.8" fill="#fff"/>
<clipPath id="ic5"><rect x="1876.1" y="1172.7" width="225.8" height="195.8"/></clipPath>
<g clip-path="url(#ic5)">
<circle cx="1886.86" cy="1310.27" r="3.4" fill="#ff0000"/>
<circle cx="1910.66" cy="1268.93" r="3.4" fill="#ff0000"/>
<circle cx="1934.29" cy="1235.57" r="3.4" fill="#ff0000"/>
<circle cx="1957.57" cy="1218.72" r="3.4" fill="#ff0000"/>
<circle cx="1981.19" cy="1203.95" r="3.4" fill="#ff0000"/>
<circle cx="2004.99" cy="1190.4" r="3.4" fill="#ff0000"/>
<polyline points="1886.86,1310.27 1910.66,1268.93 1934.29,1235.57 1957.57,1218.72 1981.19,1203.95 2004.99,1190.4" stroke="#000" stroke-width="1.5" fill="none" stroke-linejoin="round"/>
<path d="M1914.31,1358.4 V1364" stroke="#000000" stroke-width="1.6" stroke-linecap="round"/><path d="M1911.51,1363.5 L1917.11,1363.5 L1914.31,1367.7 Z" fill="#000000"/>
<path d="M1943.84,1358.4 V1364" stroke="#008000" stroke-width="1.6" stroke-linecap="round"/><path d="M1941.04,1363.5 L1946.64,1363.5 L1943.84,1367.7 Z" fill="#008000"/>
<path d="M2092.38,1358.4 V1364" stroke="#bf00bf" stroke-width="1.6" stroke-linecap="round"/><path d="M2089.58,1363.5 L2095.18,1363.5 L2092.38,1367.7 Z" fill="#bf00bf"/>
</g>
<rect x="2016" y="1290.1" width="79.2" height="71.5" rx="2.8" fill="#fff" fill-opacity="0.8" stroke="#d6d6d6" stroke-width="1"/>
<path d="M2037.6,1298.8 V1304.4" stroke="#000000" stroke-width="1.6" stroke-linecap="round"/><path d="M2034.8,1303.9 L2040.4,1303.9 L2037.6,1308.1 Z" fill="#000000"/>
<text font-size="13.8"><tspan x="2066.37" y="1306.4" font-style="italic">R</tspan><tspan x="2075.3" y="1307.9" font-size="9.8">d</tspan></text>
<path d="M2037.6,1321 V1326.6" stroke="#008000" stroke-width="1.6" stroke-linecap="round"/><path d="M2034.8,1326.1 L2040.4,1326.1 L2037.6,1330.3 Z" fill="#008000"/>
<text font-size="13.8"><tspan x="2066.37" y="1328.6" font-style="italic">R</tspan><tspan x="2075.3" y="1330.1" font-size="9.8">eff</tspan></text>
<path d="M2037.6,1343.2 V1348.8" stroke="#bf00bf" stroke-width="1.6" stroke-linecap="round"/><path d="M2034.8,1348.3 L2040.4,1348.3 L2037.6,1352.5 Z" fill="#bf00bf"/>
<text font-size="13.8"><tspan x="2066.37" y="1350.8" font-style="italic">R</tspan><tspan x="2075.3" y="1352.3" font-size="9.8">HI</tspan></text>
<rect x="1876.1" y="1172.7" width="225.8" height="195.8" fill="none" stroke="#000" stroke-width="1.5"/>
<text x="1858.08" y="1375.21" font-size="21.7">0</text>
<text x="1847.23" y="1318.21" font-size="21.7">20</text>
<text x="1847.23" y="1260.01" font-size="21.7">40</text>
<text x="1847.23" y="1202.11" font-size="21.7">60</text>
<text x="1935.78" y="1391.2" font-size="21.7">2.5</text>
<text x="2021.62" y="1391.2" font-size="21.7">5.0</text>
<path d="M1876.1,1368.1 h-3.7 M1876.1,1311.1 h-3.7 M1876.1,1252.9 h-3.7 M1876.1,1195 h-3.7 M1949.4,1368.5 v3.7 M2035.4,1368.5 v3.7" stroke="#000" stroke-width="1.1"/>
<text><tspan x="1915.79" y="1407.8" font-size="20" font-style="italic">R</tspan><tspan x="1933" y="1407.8" font-size="20">(kpc)</tspan></text>
<text transform="translate(1836,1270.9) rotate(-90)"><tspan x="-44.01" y="0" font-size="20" font-style="italic">V</tspan><tspan x="-27.75" y="0" font-size="20">(</tspan><tspan x="-20.95" y="0" font-size="20">km</tspan><tspan x="10.01" y="0" font-size="20">s</tspan><tspan x="18.76" y="-4" font-size="15.5">−</tspan><tspan x="27.85" y="-6.3" font-size="13.5">1</tspan><tspan x="37.19" y="0" font-size="20">)</tspan></text>
</g>
</svg>
</body></html>
